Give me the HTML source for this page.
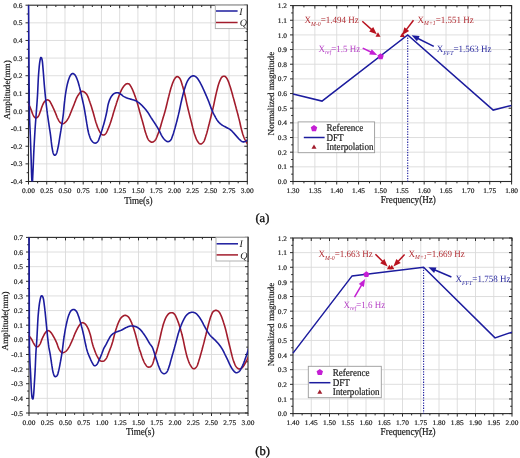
<!DOCTYPE html><html><head><meta charset="utf-8"><style>html,body{margin:0;padding:0;background:#fff;}svg{display:block;}</style></head><body>
<svg width="520" height="458" viewBox="0 0 520 458" font-family="'Liberation Serif', 'Times New Roman', serif" text-rendering="geometricPrecision">
<rect width="520" height="458" fill="#fff"/>
<defs><clipPath id="cA"><rect x="27.3" y="5.2" width="220.0" height="176.3"/></clipPath><clipPath id="cB"><rect x="291.8" y="5.6" width="219.8" height="175.9"/></clipPath><clipPath id="cC"><rect x="27.8" y="237.4" width="220.2" height="175.6"/></clipPath><clipPath id="cD"><rect x="291.8" y="238.0" width="220.2" height="175.60000000000002"/></clipPath></defs>
<path d="M46.73 5.2V181.5M64.97 5.2V181.5M83.2 5.2V181.5M101.43 5.2V181.5M119.67 5.2V181.5M137.9 5.2V181.5M156.13 5.2V181.5M174.37 5.2V181.5M192.6 5.2V181.5M210.83 5.2V181.5M229.07 5.2V181.5M28.5 163.87H247.3M28.5 146.24H247.3M28.5 128.61H247.3M28.5 110.98H247.3M28.5 93.35H247.3M28.5 75.72H247.3M28.5 58.09H247.3M28.5 40.46H247.3M28.5 22.83H247.3" stroke="#dadada" stroke-width="0.9" fill="none"/>
<path d="M28.5 181.5v3.0M28.5 5.2v3.0M37.62 181.5v1.8M37.62 5.2v1.8M46.73 181.5v3.0M46.73 5.2v3.0M55.85 181.5v1.8M55.85 5.2v1.8M64.97 181.5v3.0M64.97 5.2v3.0M74.08 181.5v1.8M74.08 5.2v1.8M83.2 181.5v3.0M83.2 5.2v3.0M92.32 181.5v1.8M92.32 5.2v1.8M101.43 181.5v3.0M101.43 5.2v3.0M110.55 181.5v1.8M110.55 5.2v1.8M119.67 181.5v3.0M119.67 5.2v3.0M128.78 181.5v1.8M128.78 5.2v1.8M137.9 181.5v3.0M137.9 5.2v3.0M147.02 181.5v1.8M147.02 5.2v1.8M156.13 181.5v3.0M156.13 5.2v3.0M165.25 181.5v1.8M165.25 5.2v1.8M174.37 181.5v3.0M174.37 5.2v3.0M183.48 181.5v1.8M183.48 5.2v1.8M192.6 181.5v3.0M192.6 5.2v3.0M201.72 181.5v1.8M201.72 5.2v1.8M210.83 181.5v3.0M210.83 5.2v3.0M219.95 181.5v1.8M219.95 5.2v1.8M229.07 181.5v3.0M229.07 5.2v3.0M238.18 181.5v1.8M238.18 5.2v1.8M247.3 181.5v3.0M247.3 5.2v3.0M28.5 181.5h-3.0M247.3 181.5h-3.0M28.5 172.69h-1.8M247.3 172.69h-1.8M28.5 163.87h-3.0M247.3 163.87h-3.0M28.5 155.06h-1.8M247.3 155.06h-1.8M28.5 146.24h-3.0M247.3 146.24h-3.0M28.5 137.43h-1.8M247.3 137.43h-1.8M28.5 128.61h-3.0M247.3 128.61h-3.0M28.5 119.79h-1.8M247.3 119.79h-1.8M28.5 110.98h-3.0M247.3 110.98h-3.0M28.5 102.16h-1.8M247.3 102.16h-1.8M28.5 93.35h-3.0M247.3 93.35h-3.0M28.5 84.53h-1.8M247.3 84.53h-1.8M28.5 75.72h-3.0M247.3 75.72h-3.0M28.5 66.91h-1.8M247.3 66.91h-1.8M28.5 58.09h-3.0M247.3 58.09h-3.0M28.5 49.28h-1.8M247.3 49.28h-1.8M28.5 40.46h-3.0M247.3 40.46h-3.0M28.5 31.64h-1.8M247.3 31.64h-1.8M28.5 22.83h-3.0M247.3 22.83h-3.0M28.5 14.01h-1.8M247.3 14.01h-1.8M28.5 5.2h-3.0M247.3 5.2h-3.0" stroke="#2a2a2a" stroke-width="1" fill="none"/>
<rect x="28.5" y="5.2" width="218.8" height="176.3" stroke="#2a2a2a" stroke-width="1.1" fill="none"/>
<g font-size="7.4" fill="#222" stroke="#222" stroke-width="0.2"><text transform="translate(28.5,193.3) scale(1,0.94)" text-anchor="middle">0.00</text><text transform="translate(46.73,193.3) scale(1,0.94)" text-anchor="middle">0.25</text><text transform="translate(64.97,193.3) scale(1,0.94)" text-anchor="middle">0.50</text><text transform="translate(83.2,193.3) scale(1,0.94)" text-anchor="middle">0.75</text><text transform="translate(101.43,193.3) scale(1,0.94)" text-anchor="middle">1.00</text><text transform="translate(119.67,193.3) scale(1,0.94)" text-anchor="middle">1.25</text><text transform="translate(137.9,193.3) scale(1,0.94)" text-anchor="middle">1.50</text><text transform="translate(156.13,193.3) scale(1,0.94)" text-anchor="middle">1.75</text><text transform="translate(174.37,193.3) scale(1,0.94)" text-anchor="middle">2.00</text><text transform="translate(192.6,193.3) scale(1,0.94)" text-anchor="middle">2.25</text><text transform="translate(210.83,193.3) scale(1,0.94)" text-anchor="middle">2.50</text><text transform="translate(229.07,193.3) scale(1,0.94)" text-anchor="middle">2.75</text><text transform="translate(247.3,193.3) scale(1,0.94)" text-anchor="middle">3.00</text><text transform="translate(22.5,184.1) scale(1,0.94)" text-anchor="end">-0.4</text><text transform="translate(22.5,166.47) scale(1,0.94)" text-anchor="end">-0.3</text><text transform="translate(22.5,148.84) scale(1,0.94)" text-anchor="end">-0.2</text><text transform="translate(22.5,131.21) scale(1,0.94)" text-anchor="end">-0.1</text><text transform="translate(22.5,113.58) scale(1,0.94)" text-anchor="end">0.0</text><text transform="translate(22.5,95.95) scale(1,0.94)" text-anchor="end">0.1</text><text transform="translate(22.5,78.32) scale(1,0.94)" text-anchor="end">0.2</text><text transform="translate(22.5,60.69) scale(1,0.94)" text-anchor="end">0.3</text><text transform="translate(22.5,43.06) scale(1,0.94)" text-anchor="end">0.4</text><text transform="translate(22.5,25.43) scale(1,0.94)" text-anchor="end">0.5</text><text transform="translate(22.5,7.8) scale(1,0.94)" text-anchor="end">0.6</text></g>
<path d="M28.50,104.55 28.68,104.80 28.91,105.14 29.17,105.53 29.42,105.95 29.66,106.39 29.89,106.83 30.11,107.28 30.32,107.73 30.51,108.20 30.70,108.66 30.87,109.13 31.05,109.59 31.22,110.06 31.40,110.53 31.57,111.00 31.75,111.47 31.92,111.94 32.09,112.41 32.26,112.88 32.44,113.35 32.62,113.81 32.82,114.27 33.02,114.73 33.24,115.18 33.47,115.62 33.71,116.06 33.97,116.48 34.26,116.88 34.58,117.26 34.93,117.59 35.31,117.84 35.73,117.97 36.18,117.97 36.62,117.85 37.04,117.64 37.42,117.34 37.76,116.99 38.07,116.60 38.34,116.19 38.60,115.76 38.83,115.32 39.04,114.87 39.24,114.41 39.42,113.95 39.60,113.48 39.77,113.01 39.94,112.54 40.11,112.07 40.28,111.60 40.45,111.13 40.62,110.66 40.79,110.19 40.95,109.72 41.11,109.24 41.27,108.77 41.43,108.29 41.59,107.82 41.75,107.35 41.91,106.87 42.08,106.40 42.26,105.93 42.44,105.47 42.63,105.01 42.84,104.55 43.05,104.10 43.27,103.65 43.51,103.21 43.75,102.77 44.00,102.35 44.28,101.93 44.58,101.54 44.91,101.17 45.27,100.83 45.66,100.53 46.07,100.26 46.51,100.04 46.96,99.91 47.43,99.86 47.90,99.92 48.35,100.08 48.77,100.31 49.16,100.60 49.51,100.94 49.82,101.32 50.10,101.73 50.35,102.16 50.58,102.60 50.81,103.05 51.04,103.49 51.27,103.93 51.50,104.38 51.73,104.82 51.96,105.27 52.18,105.72 52.40,106.17 52.62,106.62 52.83,107.07 53.04,107.52 53.25,107.97 53.46,108.43 53.67,108.88 53.88,109.34 54.08,109.79 54.29,110.25 54.49,110.71 54.69,111.17 54.88,111.63 55.08,112.09 55.28,112.55 55.47,113.01 55.66,113.47 55.85,113.93 56.03,114.40 56.21,114.87 56.39,115.33 56.56,115.80 56.74,116.27 56.92,116.73 57.11,117.20 57.31,117.65 57.52,118.11 57.74,118.56 57.96,119.00 58.19,119.45 58.43,119.89 58.67,120.33 58.92,120.76 59.19,121.18 59.47,121.59 59.77,121.98 60.11,122.35 60.47,122.69 60.85,123.00 61.26,123.28 61.70,123.50 62.15,123.67 62.61,123.73 63.07,123.70 63.53,123.56 63.96,123.34 64.36,123.06 64.75,122.75 65.12,122.42 65.49,122.08 65.84,121.72 66.18,121.36 66.50,120.98 66.80,120.58 67.09,120.17 67.37,119.76 67.63,119.33 67.89,118.91 68.14,118.47 68.39,118.04 68.63,117.60 68.86,117.16 69.08,116.71 69.29,116.25 69.49,115.80 69.68,115.34 69.87,114.87 70.05,114.41 70.24,113.94 70.42,113.48 70.60,113.01 70.78,112.55 70.97,112.08 71.16,111.62 71.34,111.15 71.53,110.69 71.72,110.23 71.91,109.76 72.09,109.30 72.28,108.84 72.47,108.37 72.66,107.91 72.85,107.45 73.04,106.98 73.23,106.52 73.42,106.06 73.60,105.60 73.79,105.13 73.97,104.67 74.16,104.20 74.34,103.73 74.51,103.27 74.69,102.80 74.87,102.33 75.05,101.87 75.23,101.40 75.41,100.93 75.59,100.47 75.77,100.00 75.96,99.54 76.15,99.07 76.34,98.61 76.54,98.16 76.75,97.70 76.96,97.25 77.19,96.80 77.43,96.37 77.68,95.93 77.95,95.51 78.22,95.10 78.51,94.69 78.80,94.28 79.09,93.88 79.39,93.48 79.70,93.08 80.02,92.70 80.36,92.34 80.73,92.01 81.12,91.72 81.55,91.50 82.00,91.38 82.47,91.35 82.94,91.42 83.40,91.57 83.84,91.78 84.26,92.04 84.67,92.33 85.05,92.64 85.43,92.97 85.79,93.32 86.14,93.67 86.46,94.05 86.76,94.45 87.03,94.86 87.27,95.30 87.49,95.75 87.70,96.20 87.89,96.66 88.08,97.13 88.26,97.59 88.43,98.06 88.60,98.53 88.77,99.00 88.94,99.47 89.10,99.94 89.26,100.42 89.43,100.89 89.59,101.36 89.76,101.83 89.92,102.31 90.09,102.78 90.26,103.25 90.42,103.72 90.58,104.19 90.74,104.67 90.90,105.14 91.06,105.62 91.21,106.09 91.36,106.57 91.51,107.05 91.66,107.52 91.81,108.00 91.95,108.48 92.10,108.96 92.24,109.44 92.39,109.92 92.53,110.39 92.67,110.87 92.82,111.35 92.96,111.83 93.10,112.31 93.24,112.79 93.38,113.27 93.52,113.75 93.65,114.23 93.79,114.71 93.92,115.20 94.05,115.68 94.19,116.16 94.32,116.64 94.45,117.13 94.58,117.61 94.71,118.09 94.84,118.57 94.98,119.05 95.11,119.54 95.25,120.02 95.39,120.50 95.53,120.98 95.67,121.46 95.82,121.93 95.97,122.41 96.13,122.88 96.28,123.36 96.44,123.83 96.60,124.31 96.76,124.78 96.92,125.25 97.09,125.73 97.26,126.20 97.43,126.67 97.61,127.14 97.79,127.60 97.97,128.06 98.17,128.53 98.37,128.98 98.58,129.44 98.80,129.89 99.02,130.34 99.24,130.78 99.47,131.23 99.71,131.67 99.95,132.10 100.21,132.53 100.48,132.95 100.77,133.35 101.09,133.73 101.45,134.07 101.83,134.39 102.23,134.66 102.66,134.87 103.12,134.99 103.58,135.01 104.03,134.91 104.47,134.72 104.88,134.46 105.26,134.15 105.60,133.79 105.91,133.41 106.19,133.00 106.44,132.57 106.67,132.13 106.89,131.68 107.10,131.22 107.31,130.77 107.51,130.31 107.71,129.85 107.91,129.40 108.11,128.94 108.31,128.48 108.50,128.02 108.69,127.56 108.88,127.09 109.06,126.63 109.24,126.16 109.42,125.69 109.59,125.22 109.76,124.75 109.92,124.28 110.09,123.81 110.25,123.33 110.41,122.86 110.57,122.39 110.73,121.91 110.89,121.44 111.05,120.96 111.20,120.49 111.36,120.01 111.51,119.54 111.66,119.06 111.80,118.58 111.95,118.10 112.09,117.62 112.23,117.14 112.38,116.67 112.52,116.19 112.66,115.71 112.80,115.23 112.94,114.75 113.08,114.27 113.22,113.79 113.36,113.31 113.50,112.83 113.64,112.35 113.79,111.87 113.93,111.39 114.08,110.91 114.23,110.44 114.38,109.96 114.52,109.48 114.67,109.00 114.82,108.52 114.97,108.05 115.12,107.57 115.26,107.09 115.41,106.61 115.56,106.14 115.71,105.66 115.86,105.18 116.02,104.71 116.17,104.23 116.32,103.75 116.47,103.28 116.63,102.80 116.79,102.33 116.94,101.85 117.10,101.38 117.26,100.91 117.42,100.43 117.58,99.96 117.74,99.49 117.91,99.01 118.07,98.54 118.23,98.07 118.39,97.59 118.55,97.12 118.72,96.65 118.88,96.18 119.05,95.71 119.22,95.24 119.39,94.77 119.57,94.30 119.75,93.83 119.93,93.37 120.12,92.91 120.32,92.45 120.52,91.99 120.73,91.53 120.95,91.08 121.16,90.63 121.38,90.18 121.61,89.74 121.84,89.30 122.08,88.86 122.33,88.42 122.58,87.99 122.85,87.57 123.13,87.16 123.43,86.75 123.73,86.36 124.04,85.97 124.36,85.59 124.69,85.21 125.03,84.85 125.40,84.51 125.79,84.22 126.21,83.98 126.66,83.81 127.14,83.71 127.62,83.67 128.11,83.69 128.57,83.79 128.99,83.98 129.36,84.26 129.69,84.62 129.98,85.01 130.26,85.43 130.52,85.86 130.77,86.29 131.02,86.72 131.27,87.15 131.51,87.59 131.75,88.03 131.97,88.48 132.19,88.93 132.40,89.38 132.60,89.84 132.79,90.30 132.99,90.76 133.18,91.22 133.36,91.69 133.54,92.15 133.73,92.62 133.91,93.08 134.09,93.55 134.27,94.02 134.44,94.48 134.62,94.95 134.79,95.42 134.96,95.89 135.13,96.36 135.30,96.83 135.46,97.31 135.63,97.78 135.79,98.25 135.95,98.73 136.10,99.20 136.26,99.68 136.41,100.15 136.57,100.63 136.72,101.10 136.87,101.58 137.02,102.06 137.16,102.54 137.31,103.01 137.46,103.49 137.60,103.97 137.74,104.45 137.88,104.93 138.01,105.41 138.15,105.89 138.28,106.38 138.41,106.86 138.54,107.34 138.67,107.82 138.80,108.31 138.93,108.79 139.06,109.27 139.19,109.76 139.32,110.24 139.45,110.72 139.57,111.21 139.70,111.69 139.84,112.17 139.97,112.65 140.10,113.14 140.23,113.62 140.37,114.10 140.50,114.58 140.64,115.06 140.78,115.54 140.92,116.02 141.05,116.50 141.19,116.98 141.33,117.47 141.47,117.95 141.61,118.43 141.74,118.91 141.88,119.39 142.02,119.87 142.16,120.35 142.30,120.83 142.43,121.31 142.57,121.79 142.71,122.27 142.85,122.75 142.98,123.23 143.12,123.71 143.25,124.20 143.38,124.68 143.51,125.16 143.64,125.64 143.77,126.13 143.90,126.61 144.02,127.10 144.15,127.58 144.27,128.06 144.40,128.55 144.53,129.03 144.65,129.51 144.78,130.00 144.92,130.48 145.05,130.96 145.19,131.44 145.33,131.92 145.48,132.40 145.63,132.87 145.79,133.35 145.95,133.82 146.12,134.29 146.28,134.77 146.45,135.24 146.62,135.71 146.79,136.18 146.96,136.64 147.14,137.11 147.33,137.58 147.52,138.04 147.73,138.49 147.95,138.94 148.20,139.37 148.47,139.79 148.77,140.18 149.10,140.55 149.45,140.90 149.83,141.23 150.22,141.53 150.63,141.79 151.07,142.00 151.53,142.12 152.01,142.16 152.48,142.09 152.93,141.95 153.37,141.73 153.79,141.47 154.19,141.17 154.56,140.85 154.92,140.50 155.24,140.12 155.53,139.72 155.79,139.30 156.02,138.85 156.23,138.40 156.43,137.95 156.63,137.49 156.81,137.02 157.00,136.56 157.18,136.09 157.36,135.63 157.54,135.16 157.72,134.69 157.91,134.23 158.09,133.77 158.28,133.30 158.46,132.84 158.64,132.37 158.82,131.90 158.99,131.43 159.16,130.96 159.33,130.49 159.49,130.02 159.65,129.54 159.80,129.07 159.95,128.59 160.10,128.11 160.24,127.63 160.38,127.15 160.52,126.67 160.66,126.19 160.80,125.71 160.94,125.23 161.07,124.75 161.21,124.27 161.34,123.79 161.48,123.31 161.62,122.83 161.75,122.35 161.89,121.87 162.03,121.38 162.17,120.91 162.31,120.43 162.46,119.95 162.60,119.47 162.75,118.99 162.89,118.51 163.04,118.03 163.18,117.56 163.33,117.08 163.48,116.60 163.62,116.12 163.77,115.64 163.92,115.16 164.06,114.69 164.21,114.21 164.35,113.73 164.49,113.25 164.63,112.77 164.77,112.29 164.91,111.81 165.04,111.33 165.18,110.84 165.31,110.36 165.44,109.88 165.56,109.40 165.69,108.91 165.81,108.43 165.94,107.94 166.06,107.46 166.18,106.97 166.29,106.49 166.41,106.00 166.53,105.51 166.64,105.03 166.76,104.54 166.88,104.05 166.99,103.57 167.11,103.08 167.22,102.60 167.34,102.11 167.46,101.62 167.57,101.14 167.69,100.65 167.81,100.17 167.93,99.68 168.05,99.19 168.17,98.71 168.29,98.22 168.42,97.74 168.54,97.26 168.66,96.77 168.79,96.29 168.91,95.80 169.03,95.32 169.15,94.83 169.28,94.35 169.40,93.86 169.52,93.38 169.64,92.89 169.77,92.41 169.89,91.92 170.02,91.44 170.15,90.96 170.28,90.48 170.41,89.99 170.55,89.51 170.68,89.03 170.82,88.55 170.97,88.07 171.12,87.59 171.27,87.12 171.42,86.64 171.58,86.17 171.74,85.70 171.90,85.22 172.07,84.75 172.23,84.28 172.40,83.81 172.57,83.34 172.75,82.87 172.92,82.40 173.11,81.94 173.30,81.47 173.50,81.02 173.71,80.56 173.93,80.12 174.17,79.68 174.43,79.25 174.70,78.83 174.98,78.42 175.27,78.01 175.58,77.62 175.91,77.26 176.27,76.95 176.67,76.72 177.10,76.62 177.55,76.64 177.99,76.79 178.40,77.03 178.79,77.32 179.16,77.66 179.49,78.02 179.80,78.41 180.07,78.82 180.31,79.26 180.51,79.71 180.70,80.17 180.87,80.64 181.03,81.12 181.19,81.59 181.34,82.07 181.49,82.54 181.64,83.02 181.79,83.50 181.94,83.98 182.09,84.45 182.24,84.93 182.38,85.41 182.53,85.88 182.68,86.36 182.82,86.84 182.96,87.32 183.10,87.80 183.23,88.28 183.37,88.77 183.50,89.25 183.63,89.73 183.76,90.21 183.89,90.70 184.01,91.18 184.14,91.67 184.26,92.15 184.38,92.64 184.50,93.12 184.62,93.61 184.74,94.09 184.86,94.58 184.97,95.07 185.08,95.55 185.19,96.04 185.29,96.53 185.40,97.02 185.50,97.51 185.61,98.00 185.71,98.49 185.81,98.97 185.92,99.46 186.02,99.95 186.12,100.44 186.22,100.93 186.33,101.42 186.43,101.91 186.54,102.40 186.64,102.89 186.75,103.38 186.86,103.86 186.97,104.35 187.08,104.84 187.19,105.33 187.31,105.81 187.42,106.30 187.54,106.79 187.65,107.27 187.77,107.76 187.89,108.25 188.00,108.73 188.12,109.22 188.24,109.70 188.36,110.19 188.48,110.67 188.60,111.16 188.72,111.65 188.84,112.13 188.96,112.62 189.08,113.10 189.20,113.59 189.32,114.07 189.44,114.56 189.56,115.04 189.68,115.53 189.80,116.01 189.93,116.50 190.05,116.98 190.17,117.47 190.29,117.95 190.42,118.44 190.54,118.92 190.66,119.40 190.79,119.89 190.91,120.37 191.04,120.86 191.16,121.34 191.28,121.83 191.40,122.31 191.53,122.80 191.65,123.28 191.77,123.77 191.88,124.25 192.00,124.74 192.12,125.23 192.24,125.71 192.36,126.20 192.48,126.68 192.60,127.17 192.71,127.65 192.84,128.14 192.96,128.62 193.08,129.11 193.21,129.59 193.33,130.08 193.46,130.56 193.60,131.04 193.73,131.52 193.87,132.00 194.01,132.48 194.16,132.96 194.32,133.43 194.47,133.91 194.63,134.38 194.79,134.86 194.96,135.33 195.12,135.80 195.29,136.27 195.46,136.74 195.64,137.21 195.82,137.68 196.00,138.14 196.19,138.60 196.39,139.06 196.60,139.51 196.83,139.96 197.06,140.40 197.32,140.83 197.58,141.25 197.85,141.67 198.14,142.08 198.43,142.49 198.73,142.88 199.06,143.25 199.41,143.58 199.81,143.83 200.24,143.98 200.69,144.00 201.14,143.90 201.57,143.70 201.98,143.44 202.37,143.13 202.73,142.79 203.07,142.43 203.39,142.05 203.69,141.65 203.95,141.23 204.18,140.79 204.39,140.34 204.58,139.87 204.76,139.41 204.93,138.94 205.09,138.47 205.25,137.99 205.40,137.51 205.56,137.04 205.71,136.56 205.85,136.08 206.00,135.61 206.15,135.13 206.30,134.65 206.44,134.17 206.59,133.70 206.73,133.22 206.88,132.74 207.01,132.26 207.15,131.77 207.28,131.29 207.41,130.81 207.53,130.32 207.66,129.84 207.78,129.36 207.90,128.87 208.03,128.39 208.15,127.90 208.27,127.42 208.39,126.93 208.51,126.45 208.63,125.96 208.75,125.48 208.88,124.99 209.00,124.51 209.12,124.02 209.25,123.54 209.37,123.05 209.49,122.57 209.62,122.08 209.74,121.60 209.86,121.11 209.98,120.63 210.11,120.14 210.23,119.66 210.35,119.17 210.47,118.69 210.59,118.20 210.71,117.72 210.83,117.23 210.95,116.75 211.07,116.26 211.19,115.78 211.31,115.29 211.43,114.81 211.54,114.32 211.66,113.83 211.78,113.35 211.89,112.86 212.01,112.38 212.13,111.89 212.24,111.40 212.36,110.92 212.47,110.43 212.59,109.94 212.70,109.46 212.82,108.97 212.93,108.48 213.04,107.99 213.16,107.51 213.27,107.02 213.38,106.53 213.49,106.05 213.60,105.56 213.71,105.07 213.81,104.58 213.92,104.09 214.02,103.60 214.13,103.11 214.23,102.62 214.33,102.14 214.43,101.65 214.54,101.16 214.64,100.67 214.74,100.18 214.84,99.69 214.94,99.20 215.04,98.71 215.15,98.22 215.25,97.73 215.35,97.24 215.46,96.75 215.56,96.26 215.67,95.77 215.78,95.29 215.89,94.80 216.00,94.31 216.11,93.82 216.22,93.34 216.34,92.85 216.46,92.36 216.58,91.88 216.70,91.39 216.82,90.91 216.94,90.42 217.06,89.94 217.18,89.45 217.30,88.97 217.42,88.48 217.54,88.00 217.67,87.51 217.79,87.03 217.92,86.55 218.05,86.06 218.19,85.58 218.32,85.10 218.47,84.62 218.61,84.14 218.76,83.67 218.92,83.19 219.09,82.72 219.27,82.26 219.45,81.79 219.65,81.33 219.84,80.87 220.04,80.41 220.24,79.95 220.45,79.50 220.66,79.05 220.88,78.60 221.12,78.16 221.38,77.74 221.67,77.34 222.01,76.99 222.39,76.71 222.82,76.49 223.28,76.33 223.75,76.25 224.23,76.23 224.69,76.31 225.12,76.50 225.50,76.77 225.85,77.11 226.17,77.49 226.47,77.89 226.75,78.30 227.02,78.72 227.28,79.15 227.52,79.58 227.75,80.03 227.95,80.48 228.15,80.94 228.33,81.41 228.51,81.88 228.68,82.34 228.85,82.82 229.02,83.29 229.18,83.76 229.34,84.23 229.50,84.71 229.66,85.18 229.82,85.66 229.97,86.13 230.13,86.60 230.29,87.08 230.44,87.56 230.59,88.03 230.74,88.51 230.89,88.99 231.03,89.47 231.17,89.95 231.31,90.43 231.45,90.91 231.59,91.39 231.72,91.87 231.86,92.35 231.99,92.83 232.12,93.31 232.26,93.80 232.39,94.28 232.52,94.76 232.66,95.24 232.79,95.72 232.92,96.21 233.06,96.69 233.19,97.17 233.33,97.65 233.46,98.13 233.59,98.61 233.73,99.10 233.86,99.58 233.99,100.06 234.12,100.54 234.26,101.02 234.39,101.51 234.52,101.99 234.65,102.47 234.78,102.96 234.91,103.44 235.04,103.92 235.17,104.40 235.30,104.89 235.43,105.37 235.56,105.85 235.69,106.34 235.82,106.82 235.95,107.30 236.08,107.78 236.20,108.27 236.33,108.75 236.46,109.23 236.59,109.72 236.72,110.20 236.85,110.68 236.98,111.16 237.11,111.65 237.24,112.13 237.37,112.61 237.50,113.10 237.63,113.58 237.76,114.06 237.89,114.54 238.02,115.03 238.15,115.51 238.28,115.99 238.40,116.48 238.53,116.96 238.65,117.45 238.78,117.93 238.90,118.41 239.02,118.90 239.15,119.38 239.27,119.87 239.38,120.36 239.50,120.84 239.61,121.33 239.72,121.82 239.83,122.30 239.94,122.79 240.05,123.28 240.16,123.77 240.26,124.26 240.37,124.75 240.48,125.24 240.58,125.72 240.69,126.21 240.80,126.70 240.91,127.19 241.02,127.67 241.14,128.16 241.26,128.65 241.38,129.13 241.50,129.62 241.63,130.10 241.76,130.58 241.90,131.06 242.03,131.54 242.17,132.02 242.31,132.50 242.46,132.98 242.60,133.46 242.75,133.94 242.91,134.41 243.06,134.89 243.22,135.36 243.39,135.83 243.56,136.30 243.74,136.77 243.93,137.23 244.12,137.70 244.32,138.15 244.52,138.61 244.74,139.06 244.96,139.51 245.19,139.95 245.42,140.40 245.66,140.84 245.90,141.27 246.15,141.70 246.41,142.13 246.67,142.56 246.94,142.98 247.21,143.38 247.46,143.75 247.68,144.06" stroke="#a21c2c" stroke-width="1.6" fill="none" stroke-linejoin="round" clip-path="url(#cA)"/>
<path d="M28.45,-9.68 28.45,-9.37 28.46,-8.96 28.46,-8.49 28.46,-8.00 28.47,-7.50 28.47,-7.00 28.48,-6.50 28.48,-6.00 28.48,-5.50 28.49,-5.00 28.49,-4.50 28.49,-4.00 28.50,-3.50 28.50,-3.00 28.50,-2.50 28.51,-2.00 28.51,-1.50 28.52,-1.00 28.52,-0.50 28.52,-0.00 28.53,0.50 28.53,1.00 28.53,1.50 28.54,2.00 28.54,2.50 28.54,3.00 28.55,3.50 28.55,4.00 28.56,4.50 28.56,5.00 28.56,5.50 28.57,6.00 28.57,6.50 28.57,7.00 28.58,7.50 28.58,8.00 28.59,8.50 28.59,9.00 28.59,9.50 28.60,10.00 28.60,10.50 28.60,11.00 28.61,11.50 28.61,12.00 28.62,12.50 28.62,13.00 28.62,13.50 28.63,14.00 28.63,14.50 28.63,15.00 28.64,15.50 28.64,16.00 28.64,16.50 28.65,17.00 28.65,17.50 28.66,18.00 28.66,18.50 28.66,19.00 28.67,19.50 28.67,20.00 28.67,20.50 28.68,21.00 28.68,21.50 28.69,22.00 28.69,22.50 28.69,23.00 28.70,23.50 28.70,24.00 28.70,24.50 28.71,25.00 28.71,25.50 28.72,26.00 28.72,26.50 28.72,27.00 28.73,27.50 28.73,28.00 28.74,28.50 28.74,29.00 28.74,29.50 28.75,30.00 28.75,30.50 28.75,31.00 28.76,31.50 28.76,32.00 28.77,32.50 28.77,33.00 28.77,33.50 28.78,34.00 28.78,34.50 28.78,35.00 28.79,35.50 28.79,36.00 28.80,36.50 28.80,37.00 28.80,37.50 28.81,38.00 28.81,38.50 28.82,39.00 28.82,39.50 28.82,40.00 28.83,40.50 28.83,41.00 28.83,41.50 28.84,42.00 28.84,42.50 28.85,43.00 28.85,43.50 28.85,44.00 28.86,44.50 28.86,45.00 28.87,45.50 28.87,46.00 28.87,46.50 28.88,47.00 28.88,47.50 28.88,48.00 28.89,48.50 28.89,49.00 28.90,49.50 28.90,50.00 28.90,50.50 28.91,51.00 28.91,51.50 28.92,52.00 28.92,52.50 28.92,53.00 28.93,53.50 28.93,54.00 28.93,54.50 28.94,55.00 28.94,55.50 28.94,56.00 28.95,56.50 28.95,57.00 28.96,57.50 28.96,58.00 28.96,58.50 28.97,59.00 28.97,59.50 28.97,60.00 28.98,60.50 28.98,61.00 28.98,61.50 28.99,62.00 28.99,62.50 28.99,63.00 29.00,63.50 29.00,64.00 29.00,64.50 29.01,65.00 29.01,65.50 29.01,66.00 29.02,66.50 29.02,67.00 29.02,67.50 29.03,68.00 29.03,68.50 29.03,69.00 29.04,69.50 29.04,70.00 29.04,70.50 29.05,71.00 29.05,71.50 29.05,72.00 29.06,72.50 29.06,73.00 29.06,73.50 29.07,74.00 29.07,74.50 29.07,75.00 29.08,75.50 29.08,76.00 29.08,76.50 29.09,77.00 29.09,77.50 29.09,78.00 29.10,78.50 29.10,79.00 29.10,79.50 29.11,80.00 29.11,80.50 29.11,81.00 29.12,81.50 29.12,82.00 29.12,82.50 29.13,83.00 29.13,83.50 29.13,84.00 29.14,84.50 29.14,85.00 29.15,85.50 29.15,86.00 29.15,86.50 29.16,87.00 29.16,87.50 29.16,88.00 29.17,88.50 29.17,89.00 29.17,89.50 29.18,90.00 29.18,90.50 29.18,91.00 29.19,91.50 29.19,92.00 29.20,92.50 29.20,93.00 29.20,93.50 29.21,94.00 29.21,94.50 29.21,95.00 29.22,95.50 29.22,96.00 29.23,96.50 29.23,97.00 29.23,97.50 29.24,98.00 29.24,98.50 29.25,99.00 29.25,99.50 29.26,100.00 29.26,100.50 29.26,101.00 29.27,101.50 29.27,102.00 29.28,102.50 29.28,103.00 29.29,103.50 29.29,104.00 29.30,104.50 29.30,105.00 29.31,105.50 29.31,106.00 29.32,106.50 29.33,107.00 29.33,107.50 29.34,108.00 29.34,108.50 29.35,109.00 29.36,109.50 29.37,110.00 29.37,110.50 29.38,111.00 29.39,111.50 29.40,112.00 29.41,112.50 29.42,113.00 29.43,113.50 29.45,114.00 29.46,114.50 29.47,115.00 29.48,115.50 29.50,115.99 29.51,116.49 29.53,116.99 29.54,117.49 29.56,117.99 29.57,118.49 29.59,118.99 29.60,119.49 29.62,119.99 29.64,120.49 29.66,120.99 29.68,121.49 29.69,121.99 29.72,122.49 29.74,122.99 29.76,123.49 29.78,123.99 29.80,124.49 29.83,124.99 29.85,125.49 29.88,125.99 29.90,126.49 29.93,126.99 29.95,127.49 29.98,127.98 30.01,128.48 30.03,128.98 30.06,129.48 30.08,129.98 30.11,130.48 30.13,130.98 30.16,131.48 30.18,131.98 30.20,132.48 30.22,132.98 30.24,133.48 30.26,133.98 30.28,134.48 30.30,134.98 30.32,135.48 30.34,135.98 30.36,136.48 30.38,136.98 30.39,137.48 30.41,137.98 30.43,138.47 30.45,138.97 30.47,139.47 30.48,139.97 30.50,140.47 30.52,140.97 30.54,141.47 30.55,141.97 30.57,142.47 30.59,142.97 30.61,143.47 30.62,143.97 30.64,144.47 30.66,144.97 30.68,145.47 30.69,145.97 30.71,146.47 30.73,146.97 30.75,147.47 30.76,147.97 30.78,148.47 30.80,148.97 30.81,149.47 30.83,149.97 30.85,150.47 30.87,150.97 30.88,151.47 30.90,151.97 30.92,152.47 30.93,152.97 30.95,153.47 30.97,153.97 30.98,154.47 31.00,154.97 31.02,155.46 31.03,155.96 31.05,156.46 31.07,156.96 31.09,157.46 31.10,157.96 31.12,158.46 31.13,158.96 31.15,159.46 31.17,159.96 31.18,160.46 31.20,160.96 31.21,161.46 31.22,161.96 31.24,162.46 31.25,162.96 31.27,163.46 31.28,163.96 31.29,164.46 31.31,164.96 31.32,165.46 31.34,165.96 31.35,166.46 31.36,166.96 31.38,167.46 31.39,167.96 31.40,168.46 31.42,168.96 31.43,169.46 31.45,169.96 31.46,170.46 31.47,170.96 31.49,171.46 31.50,171.96 31.52,172.46 31.53,172.96 31.55,173.46 31.57,173.96 31.58,174.46 31.60,174.96 31.62,175.46 31.64,175.96 31.66,176.45 31.68,176.95 31.70,177.45 31.73,177.95 31.75,178.45 31.79,178.95 31.83,179.45 31.87,179.95 31.91,180.45 31.96,180.94 32.02,181.43 32.08,181.87 32.16,182.22 32.25,182.38 32.34,182.31 32.41,182.02 32.46,181.60 32.50,181.12 32.54,180.62 32.56,180.12 32.59,179.63 32.62,179.13 32.64,178.63 32.66,178.13 32.69,177.63 32.71,177.13 32.73,176.63 32.76,176.13 32.78,175.63 32.80,175.13 32.82,174.63 32.85,174.13 32.87,173.63 32.90,173.13 32.92,172.63 32.95,172.13 32.97,171.63 33.00,171.14 33.02,170.64 33.05,170.14 33.07,169.64 33.09,169.14 33.11,168.64 33.13,168.14 33.16,167.64 33.18,167.14 33.20,166.64 33.22,166.14 33.24,165.64 33.26,165.14 33.28,164.64 33.30,164.14 33.32,163.64 33.34,163.14 33.37,162.64 33.39,162.14 33.41,161.64 33.43,161.14 33.45,160.64 33.47,160.15 33.49,159.65 33.51,159.15 33.53,158.65 33.55,158.15 33.57,157.65 33.59,157.15 33.61,156.65 33.63,156.15 33.65,155.65 33.67,155.15 33.70,154.65 33.72,154.15 33.74,153.65 33.76,153.15 33.78,152.65 33.81,152.15 33.83,151.65 33.85,151.15 33.88,150.65 33.90,150.15 33.93,149.66 33.95,149.16 33.98,148.66 34.00,148.16 34.03,147.66 34.05,147.16 34.08,146.66 34.11,146.16 34.13,145.66 34.16,145.16 34.18,144.66 34.21,144.16 34.24,143.66 34.26,143.16 34.29,142.66 34.32,142.17 34.34,141.67 34.37,141.17 34.40,140.67 34.43,140.17 34.45,139.67 34.48,139.17 34.51,138.67 34.54,138.17 34.57,137.67 34.60,137.17 34.62,136.67 34.65,136.18 34.68,135.68 34.71,135.18 34.74,134.68 34.77,134.18 34.80,133.68 34.83,133.18 34.86,132.68 34.89,132.18 34.92,131.68 34.95,131.18 34.98,130.69 35.01,130.19 35.05,129.69 35.08,129.19 35.11,128.69 35.14,128.19 35.17,127.69 35.21,127.19 35.24,126.69 35.27,126.19 35.31,125.70 35.34,125.20 35.38,124.70 35.41,124.20 35.45,123.70 35.49,123.20 35.52,122.70 35.56,122.20 35.60,121.71 35.64,121.21 35.68,120.71 35.71,120.21 35.75,119.71 35.79,119.21 35.83,118.71 35.87,118.22 35.90,117.72 35.94,117.22 35.98,116.72 36.02,116.22 36.05,115.72 36.09,115.22 36.13,114.73 36.16,114.23 36.20,113.73 36.24,113.23 36.27,112.73 36.31,112.23 36.35,111.73 36.39,111.24 36.42,110.74 36.46,110.24 36.50,109.74 36.54,109.24 36.58,108.74 36.61,108.24 36.65,107.75 36.69,107.25 36.72,106.75 36.76,106.25 36.80,105.75 36.84,105.25 36.87,104.75 36.91,104.26 36.94,103.76 36.98,103.26 37.02,102.76 37.05,102.26 37.09,101.76 37.12,101.26 37.15,100.76 37.19,100.27 37.22,99.77 37.26,99.27 37.29,98.77 37.32,98.27 37.35,97.77 37.38,97.27 37.42,96.77 37.45,96.27 37.48,95.77 37.51,95.28 37.54,94.78 37.56,94.28 37.59,93.78 37.62,93.28 37.64,92.78 37.67,92.28 37.69,91.78 37.72,91.28 37.74,90.78 37.77,90.28 37.79,89.78 37.81,89.28 37.84,88.78 37.86,88.28 37.88,87.78 37.90,87.29 37.93,86.79 37.95,86.29 37.97,85.79 37.99,85.29 38.02,84.79 38.04,84.29 38.06,83.79 38.09,83.29 38.11,82.79 38.13,82.29 38.16,81.79 38.18,81.29 38.21,80.79 38.23,80.29 38.26,79.79 38.28,79.29 38.31,78.79 38.33,78.30 38.36,77.80 38.39,77.30 38.42,76.80 38.45,76.30 38.49,75.80 38.52,75.30 38.56,74.80 38.59,74.30 38.63,73.81 38.67,73.31 38.71,72.81 38.74,72.31 38.78,71.81 38.82,71.31 38.86,70.81 38.90,70.32 38.94,69.82 38.98,69.32 39.02,68.82 39.07,68.32 39.11,67.82 39.16,67.33 39.20,66.83 39.25,66.33 39.30,65.83 39.35,65.34 39.40,64.84 39.46,64.34 39.52,63.85 39.58,63.35 39.65,62.85 39.72,62.36 39.79,61.87 39.88,61.37 39.96,60.88 40.04,60.39 40.13,59.89 40.22,59.40 40.32,58.91 40.43,58.43 40.57,57.99 40.74,57.63 40.95,57.43 41.18,57.45 41.40,57.68 41.59,58.06 41.75,58.51 41.88,58.98 42.00,59.47 42.11,59.95 42.21,60.44 42.29,60.94 42.36,61.43 42.43,61.93 42.48,62.42 42.53,62.92 42.58,63.42 42.63,63.92 42.67,64.41 42.71,64.91 42.76,65.41 42.80,65.91 42.84,66.41 42.88,66.90 42.92,67.40 42.96,67.90 43.01,68.40 43.05,68.90 43.09,69.40 43.13,69.89 43.18,70.39 43.22,70.89 43.26,71.39 43.30,71.89 43.34,72.39 43.38,72.88 43.42,73.38 43.46,73.88 43.50,74.38 43.54,74.88 43.57,75.38 43.61,75.87 43.65,76.37 43.69,76.87 43.72,77.37 43.76,77.87 43.80,78.37 43.84,78.87 43.87,79.36 43.91,79.86 43.95,80.36 43.99,80.86 44.03,81.36 44.07,81.86 44.11,82.36 44.15,82.85 44.19,83.35 44.23,83.85 44.27,84.35 44.31,84.85 44.36,85.35 44.40,85.84 44.44,86.34 44.49,86.84 44.53,87.34 44.58,87.84 44.62,88.33 44.66,88.83 44.71,89.33 44.76,89.83 44.80,90.33 44.85,90.82 44.89,91.32 44.94,91.82 44.99,92.32 45.03,92.81 45.08,93.31 45.13,93.81 45.18,94.31 45.23,94.81 45.27,95.30 45.32,95.80 45.37,96.30 45.42,96.80 45.48,97.29 45.53,97.79 45.58,98.29 45.63,98.78 45.68,99.28 45.74,99.78 45.79,100.28 45.84,100.77 45.90,101.27 45.95,101.77 46.01,102.26 46.06,102.76 46.12,103.26 46.17,103.76 46.23,104.25 46.29,104.75 46.35,105.25 46.40,105.74 46.46,106.24 46.52,106.74 46.58,107.23 46.64,107.73 46.70,108.22 46.76,108.72 46.82,109.22 46.88,109.71 46.94,110.21 47.00,110.71 47.07,111.20 47.13,111.70 47.19,112.19 47.26,112.69 47.32,113.19 47.39,113.68 47.45,114.18 47.52,114.67 47.58,115.17 47.65,115.66 47.72,116.16 47.79,116.65 47.86,117.15 47.93,117.64 48.00,118.14 48.07,118.63 48.15,119.13 48.22,119.62 48.29,120.12 48.37,120.61 48.44,121.11 48.51,121.60 48.59,122.10 48.66,122.59 48.73,123.08 48.81,123.58 48.88,124.07 48.96,124.57 49.03,125.06 49.10,125.56 49.18,126.05 49.25,126.55 49.33,127.04 49.41,127.53 49.48,128.03 49.56,128.52 49.63,129.02 49.71,129.51 49.79,130.01 49.86,130.50 49.94,130.99 50.01,131.49 50.08,131.98 50.16,132.48 50.23,132.97 50.30,133.47 50.37,133.96 50.44,134.46 50.50,134.95 50.57,135.45 50.63,135.95 50.69,136.44 50.75,136.94 50.81,137.43 50.87,137.93 50.93,138.43 50.98,138.92 51.04,139.42 51.09,139.92 51.15,140.42 51.20,140.91 51.26,141.41 51.31,141.91 51.37,142.40 51.43,142.90 51.49,143.40 51.54,143.89 51.61,144.39 51.67,144.89 51.73,145.38 51.80,145.88 51.87,146.37 51.95,146.87 52.03,147.36 52.11,147.85 52.20,148.34 52.29,148.84 52.37,149.33 52.46,149.82 52.56,150.31 52.65,150.80 52.75,151.29 52.86,151.78 52.97,152.27 53.10,152.75 53.25,153.23 53.42,153.69 53.62,154.14 53.86,154.57 54.14,154.93 54.46,155.17 54.82,155.25 55.20,155.15 55.55,154.90 55.86,154.55 56.14,154.15 56.38,153.72 56.59,153.27 56.76,152.80 56.91,152.33 57.05,151.85 57.17,151.36 57.29,150.88 57.41,150.39 57.52,149.90 57.62,149.42 57.73,148.93 57.83,148.44 57.94,147.95 58.04,147.46 58.14,146.97 58.24,146.48 58.34,145.99 58.43,145.50 58.52,145.01 58.61,144.51 58.69,144.02 58.78,143.53 58.86,143.04 58.94,142.54 59.02,142.05 59.10,141.55 59.18,141.06 59.25,140.57 59.33,140.07 59.41,139.58 59.49,139.08 59.56,138.59 59.64,138.10 59.72,137.60 59.80,137.11 59.88,136.62 59.96,136.12 60.04,135.63 60.13,135.14 60.21,134.64 60.29,134.15 60.37,133.66 60.46,133.16 60.54,132.67 60.62,132.18 60.70,131.68 60.78,131.19 60.87,130.70 60.95,130.20 61.03,129.71 61.11,129.22 61.19,128.72 61.27,128.23 61.35,127.74 61.43,127.24 61.51,126.75 61.58,126.26 61.66,125.76 61.74,125.27 61.81,124.77 61.89,124.28 61.96,123.78 62.04,123.29 62.11,122.80 62.19,122.30 62.26,121.81 62.34,121.31 62.41,120.82 62.49,120.32 62.56,119.83 62.63,119.33 62.70,118.84 62.77,118.34 62.84,117.85 62.91,117.35 62.98,116.86 63.04,116.36 63.11,115.87 63.17,115.37 63.23,114.87 63.29,114.38 63.35,113.88 63.41,113.39 63.47,112.89 63.52,112.39 63.57,111.89 63.62,111.40 63.67,110.90 63.71,110.40 63.76,109.90 63.80,109.40 63.85,108.91 63.89,108.41 63.94,107.91 63.98,107.41 64.03,106.91 64.07,106.42 64.12,105.92 64.17,105.42 64.21,104.92 64.26,104.43 64.31,103.93 64.37,103.43 64.42,102.93 64.48,102.44 64.53,101.94 64.59,101.44 64.65,100.95 64.70,100.45 64.76,99.95 64.82,99.46 64.88,98.96 64.94,98.46 65.00,97.97 65.06,97.47 65.12,96.98 65.19,96.48 65.25,95.98 65.32,95.49 65.38,94.99 65.45,94.50 65.52,94.00 65.59,93.51 65.67,93.01 65.74,92.52 65.82,92.02 65.90,91.53 65.98,91.04 66.06,90.54 66.15,90.05 66.24,89.56 66.33,89.07 66.42,88.58 66.52,88.09 66.61,87.59 66.71,87.10 66.81,86.61 66.91,86.13 67.02,85.64 67.13,85.15 67.24,84.66 67.35,84.17 67.47,83.69 67.59,83.20 67.72,82.72 67.85,82.24 67.99,81.76 68.13,81.28 68.27,80.80 68.42,80.32 68.57,79.84 68.72,79.37 68.88,78.89 69.04,78.42 69.21,77.95 69.40,77.49 69.59,77.03 69.80,76.57 70.03,76.13 70.28,75.70 70.54,75.28 70.83,74.87 71.14,74.48 71.47,74.12 71.83,73.82 72.23,73.61 72.67,73.52 73.11,73.58 73.54,73.75 73.95,74.00 74.33,74.31 74.69,74.65 75.02,75.02 75.32,75.42 75.59,75.83 75.83,76.27 76.05,76.71 76.26,77.17 76.47,77.62 76.66,78.08 76.85,78.55 77.04,79.01 77.22,79.48 77.40,79.94 77.57,80.41 77.73,80.89 77.89,81.36 78.04,81.84 78.19,82.31 78.33,82.79 78.47,83.27 78.61,83.75 78.75,84.23 78.88,84.72 79.01,85.20 79.15,85.68 79.28,86.16 79.40,86.65 79.53,87.13 79.66,87.61 79.78,88.10 79.90,88.58 80.02,89.07 80.13,89.56 80.25,90.04 80.36,90.53 80.47,91.02 80.58,91.50 80.69,91.99 80.80,92.48 80.91,92.97 81.02,93.46 81.13,93.94 81.23,94.43 81.34,94.92 81.45,95.41 81.56,95.90 81.66,96.39 81.77,96.87 81.88,97.36 81.99,97.85 82.10,98.34 82.21,98.83 82.32,99.31 82.44,99.80 82.55,100.29 82.66,100.78 82.77,101.26 82.88,101.75 82.99,102.24 83.10,102.73 83.21,103.21 83.31,103.70 83.42,104.19 83.53,104.68 83.63,105.17 83.73,105.66 83.83,106.15 83.93,106.64 84.03,107.13 84.13,107.62 84.23,108.11 84.32,108.60 84.41,109.09 84.50,109.58 84.59,110.08 84.68,110.57 84.76,111.06 84.84,111.55 84.93,112.05 85.01,112.54 85.08,113.03 85.16,113.53 85.24,114.02 85.32,114.52 85.39,115.01 85.47,115.50 85.55,116.00 85.63,116.49 85.70,116.99 85.78,117.48 85.86,117.97 85.94,118.47 86.02,118.96 86.11,119.45 86.19,119.95 86.28,120.44 86.36,120.93 86.44,121.42 86.53,121.92 86.61,122.41 86.69,122.90 86.77,123.40 86.86,123.89 86.94,124.38 87.02,124.88 87.10,125.37 87.19,125.86 87.27,126.36 87.35,126.85 87.44,127.34 87.53,127.83 87.61,128.33 87.70,128.82 87.80,129.31 87.89,129.80 87.99,130.29 88.08,130.78 88.19,131.27 88.30,131.76 88.41,132.25 88.53,132.73 88.66,133.21 88.79,133.70 88.93,134.18 89.07,134.65 89.22,135.13 89.37,135.61 89.53,136.08 89.69,136.56 89.85,137.03 90.02,137.50 90.20,137.97 90.39,138.43 90.60,138.88 90.82,139.33 91.06,139.77 91.32,140.19 91.61,140.59 91.93,140.98 92.25,141.36 92.59,141.72 92.95,142.07 93.32,142.40 93.72,142.69 94.14,142.92 94.59,143.08 95.06,143.14 95.52,143.09 95.97,142.95 96.40,142.73 96.81,142.45 97.18,142.13 97.52,141.77 97.83,141.39 98.10,140.97 98.34,140.54 98.55,140.09 98.74,139.63 98.92,139.16 99.10,138.69 99.27,138.22 99.44,137.75 99.61,137.28 99.78,136.81 99.95,136.34 100.12,135.87 100.29,135.40 100.45,134.93 100.61,134.45 100.76,133.98 100.92,133.50 101.07,133.03 101.22,132.55 101.36,132.07 101.51,131.59 101.66,131.12 101.80,130.64 101.95,130.16 102.10,129.68 102.25,129.20 102.39,128.73 102.54,128.25 102.69,127.77 102.83,127.29 102.98,126.81 103.12,126.34 103.27,125.86 103.41,125.38 103.55,124.90 103.69,124.42 103.83,123.94 103.96,123.46 104.10,122.97 104.23,122.49 104.36,122.01 104.49,121.53 104.62,121.04 104.74,120.56 104.87,120.07 104.99,119.59 105.11,119.10 105.23,118.62 105.35,118.13 105.47,117.65 105.59,117.16 105.70,116.67 105.81,116.19 105.93,115.70 106.04,115.21 106.15,114.73 106.26,114.24 106.36,113.75 106.47,113.26 106.58,112.77 106.68,112.28 106.78,111.79 106.87,111.30 106.97,110.81 107.06,110.32 107.14,109.83 107.23,109.33 107.31,108.84 107.40,108.35 107.48,107.86 107.57,107.36 107.65,106.87 107.74,106.38 107.84,105.89 107.93,105.40 108.04,104.91 108.15,104.42 108.28,103.94 108.41,103.46 108.55,102.98 108.70,102.50 108.86,102.02 109.02,101.55 109.18,101.08 109.35,100.61 109.53,100.14 109.72,99.68 109.91,99.22 110.11,98.76 110.32,98.31 110.55,97.86 110.79,97.42 111.04,96.99 111.31,96.57 111.59,96.16 111.89,95.76 112.19,95.36 112.51,94.98 112.85,94.61 113.20,94.26 113.58,93.94 113.98,93.66 114.41,93.41 114.86,93.21 115.33,93.04 115.80,92.90 116.29,92.79 116.78,92.71 117.27,92.69 117.75,92.73 118.23,92.83 118.69,93.00 119.13,93.21 119.57,93.46 119.99,93.72 120.41,93.99 120.82,94.27 121.23,94.56 121.62,94.87 122.01,95.18 122.40,95.49 122.80,95.80 123.20,96.09 123.61,96.37 124.04,96.63 124.48,96.87 124.92,97.10 125.37,97.32 125.83,97.52 126.29,97.72 126.75,97.90 127.22,98.08 127.69,98.24 128.17,98.40 128.64,98.55 129.12,98.69 129.60,98.83 130.08,98.97 130.56,99.11 131.04,99.25 131.52,99.38 132.01,99.52 132.49,99.65 132.97,99.79 133.45,99.93 133.92,100.09 134.39,100.26 134.86,100.44 135.32,100.63 135.77,100.84 136.22,101.06 136.66,101.30 137.09,101.54 137.52,101.80 137.94,102.07 138.35,102.36 138.75,102.65 139.15,102.96 139.54,103.27 139.92,103.60 140.30,103.92 140.67,104.25 141.04,104.59 141.40,104.94 141.76,105.29 142.11,105.64 142.46,106.00 142.81,106.36 143.15,106.72 143.49,107.09 143.82,107.46 144.16,107.83 144.49,108.21 144.82,108.58 145.15,108.96 145.47,109.34 145.79,109.73 146.10,110.12 146.41,110.51 146.72,110.90 147.03,111.30 147.32,111.70 147.62,112.10 147.91,112.51 148.19,112.93 148.46,113.35 148.73,113.77 148.99,114.19 149.25,114.62 149.51,115.05 149.77,115.48 150.02,115.91 150.28,116.33 150.54,116.76 150.81,117.18 151.07,117.61 151.35,118.03 151.62,118.45 151.89,118.86 152.17,119.28 152.45,119.70 152.73,120.11 153.00,120.53 153.28,120.94 153.56,121.36 153.83,121.78 154.11,122.19 154.38,122.61 154.65,123.03 154.92,123.46 155.19,123.88 155.46,124.30 155.73,124.72 155.99,125.14 156.26,125.56 156.53,125.99 156.79,126.41 157.05,126.84 157.31,127.26 157.57,127.69 157.83,128.12 158.08,128.55 158.33,128.99 158.58,129.42 158.82,129.86 159.06,130.30 159.29,130.74 159.51,131.19 159.73,131.64 159.95,132.09 160.16,132.54 160.37,132.99 160.59,133.45 160.80,133.90 161.02,134.35 161.25,134.79 161.48,135.24 161.72,135.67 161.97,136.10 162.24,136.53 162.51,136.95 162.79,137.36 163.08,137.77 163.37,138.17 163.68,138.57 163.99,138.96 164.32,139.33 164.67,139.69 165.03,140.03 165.41,140.36 165.80,140.67 166.20,140.96 166.62,141.22 167.06,141.44 167.51,141.59 167.98,141.64 168.45,141.60 168.90,141.46 169.34,141.25 169.75,140.97 170.13,140.66 170.48,140.32 170.80,139.94 171.07,139.53 171.31,139.09 171.52,138.64 171.71,138.18 171.89,137.72 172.07,137.25 172.24,136.78 172.40,136.31 172.57,135.83 172.74,135.36 172.90,134.89 173.07,134.42 173.23,133.95 173.38,133.47 173.54,132.99 173.69,132.52 173.83,132.04 173.98,131.56 174.12,131.08 174.26,130.60 174.40,130.12 174.54,129.64 174.67,129.16 174.81,128.68 174.95,128.20 175.08,127.72 175.22,127.24 175.35,126.75 175.49,126.27 175.62,125.79 175.75,125.31 175.88,124.83 176.01,124.34 176.14,123.86 176.27,123.38 176.40,122.89 176.53,122.41 176.65,121.93 176.78,121.44 176.90,120.96 177.03,120.47 177.15,119.99 177.27,119.50 177.39,119.02 177.52,118.53 177.64,118.05 177.76,117.56 177.88,117.08 177.99,116.59 178.11,116.11 178.23,115.62 178.34,115.13 178.46,114.65 178.57,114.16 178.69,113.67 178.80,113.19 178.91,112.70 179.02,112.21 179.14,111.72 179.25,111.24 179.35,110.75 179.46,110.26 179.57,109.77 179.67,109.28 179.78,108.79 179.88,108.30 179.98,107.81 180.08,107.33 180.18,106.84 180.29,106.35 180.39,105.86 180.49,105.37 180.59,104.88 180.70,104.39 180.80,103.90 180.91,103.41 181.02,102.92 181.13,102.44 181.24,101.95 181.35,101.46 181.46,100.97 181.57,100.48 181.68,100.00 181.79,99.51 181.90,99.02 182.01,98.54 182.13,98.05 182.24,97.56 182.36,97.08 182.48,96.59 182.60,96.10 182.72,95.62 182.84,95.13 182.96,94.65 183.09,94.17 183.22,93.68 183.34,93.20 183.47,92.72 183.61,92.23 183.74,91.75 183.87,91.27 184.01,90.79 184.15,90.31 184.29,89.83 184.43,89.35 184.57,88.87 184.72,88.39 184.87,87.92 185.02,87.44 185.18,86.96 185.33,86.49 185.49,86.01 185.65,85.54 185.81,85.07 185.97,84.59 186.14,84.12 186.31,83.65 186.50,83.19 186.69,82.73 186.89,82.27 187.10,81.82 187.33,81.37 187.56,80.93 187.80,80.49 188.05,80.06 188.32,79.64 188.59,79.22 188.88,78.81 189.18,78.42 189.50,78.03 189.84,77.67 190.20,77.32 190.57,76.99 190.96,76.69 191.38,76.43 191.83,76.21 192.28,76.03 192.76,75.89 193.24,75.83 193.72,75.84 194.19,75.93 194.65,76.10 195.08,76.32 195.50,76.58 195.91,76.87 196.30,77.18 196.67,77.51 197.02,77.86 197.35,78.24 197.66,78.63 197.95,79.04 198.23,79.45 198.50,79.87 198.76,80.30 199.02,80.72 199.28,81.15 199.54,81.58 199.79,82.01 200.04,82.44 200.28,82.88 200.52,83.32 200.76,83.76 200.98,84.21 201.21,84.65 201.43,85.10 201.65,85.55 201.87,86.00 202.09,86.45 202.31,86.90 202.53,87.35 202.74,87.80 202.95,88.25 203.17,88.70 203.37,89.16 203.58,89.61 203.79,90.07 203.99,90.53 204.19,90.98 204.40,91.44 204.60,91.90 204.80,92.36 205.00,92.81 205.20,93.27 205.40,93.73 205.60,94.19 205.80,94.65 206.00,95.10 206.20,95.56 206.40,96.02 206.60,96.48 206.80,96.94 207.00,97.40 207.19,97.86 207.39,98.32 207.58,98.78 207.77,99.24 207.97,99.70 208.16,100.16 208.35,100.63 208.53,101.09 208.72,101.56 208.90,102.02 209.08,102.49 209.25,102.96 209.43,103.43 209.60,103.90 209.77,104.37 209.94,104.84 210.10,105.31 210.27,105.78 210.44,106.25 210.61,106.72 210.78,107.19 210.96,107.66 211.13,108.12 211.31,108.59 211.50,109.06 211.69,109.52 211.88,109.98 212.08,110.44 212.28,110.89 212.49,111.35 212.70,111.80 212.91,112.26 213.13,112.71 213.34,113.16 213.56,113.61 213.79,114.05 214.01,114.50 214.24,114.94 214.48,115.39 214.71,115.83 214.95,116.27 215.18,116.71 215.42,117.15 215.66,117.59 215.90,118.03 216.15,118.46 216.40,118.90 216.65,119.33 216.91,119.75 217.18,120.17 217.47,120.58 217.76,120.99 218.07,121.38 218.39,121.76 218.72,122.14 219.06,122.50 219.41,122.86 219.77,123.21 220.14,123.54 220.52,123.87 220.91,124.18 221.30,124.48 221.71,124.77 222.12,125.05 222.54,125.33 222.97,125.59 223.40,125.84 223.83,126.09 224.27,126.34 224.71,126.57 225.15,126.80 225.60,127.03 226.04,127.25 226.49,127.48 226.94,127.71 227.38,127.94 227.82,128.18 228.26,128.42 228.69,128.66 229.12,128.92 229.55,129.18 229.97,129.45 230.37,129.74 230.77,130.05 231.15,130.37 231.52,130.70 231.88,131.05 232.23,131.40 232.57,131.77 232.92,132.13 233.25,132.50 233.59,132.87 233.93,133.24 234.26,133.61 234.59,133.99 234.92,134.37 235.24,134.75 235.56,135.13 235.89,135.51 236.21,135.89 236.54,136.27 236.87,136.64 237.20,137.02 237.53,137.39 237.87,137.76 238.21,138.13 238.55,138.49 238.90,138.85 239.25,139.21 239.61,139.55 239.98,139.89 240.36,140.22 240.73,140.55 241.11,140.87 241.50,141.18 241.91,141.45 242.34,141.67 242.80,141.82 243.27,141.89 243.76,141.87 244.24,141.80 244.72,141.68 245.19,141.52 245.64,141.32 246.07,141.07 246.47,140.79 246.84,140.48 247.16,140.17 247.43,139.90" stroke="#1c1c9e" stroke-width="1.6" fill="none" stroke-linejoin="round" clip-path="url(#cA)"/>
<rect x="215.3" y="5.2" width="32" height="23.4" fill="#fff" stroke="#a8a8a8" stroke-width="0.9"/>
<line x1="216" y1="11" x2="237.6" y2="11" stroke="#1c1c9e" stroke-width="1.5"/>
<line x1="216" y1="22.5" x2="237.6" y2="22.5" stroke="#a21c2c" stroke-width="1.5"/>
<text x="239.2" y="14.6" font-size="10" font-style="italic" fill="#222">I</text>
<text x="239.8" y="26" font-size="10" font-style="italic" fill="#222">Q</text>
<line x1="247.3" y1="4.65" x2="247.3" y2="30" stroke="#2a2a2a" stroke-width="1.1"/>
<path d="M47.25 237.4V413M65.5 237.4V413M83.75 237.4V413M102 237.4V413M120.25 237.4V413M138.5 237.4V413M156.75 237.4V413M175 237.4V413M193.25 237.4V413M211.5 237.4V413M229.75 237.4V413M29 398.37H248M29 383.73H248M29 369.1H248M29 354.47H248M29 339.83H248M29 325.2H248M29 310.57H248M29 295.93H248M29 281.3H248M29 266.67H248M29 252.03H248" stroke="#dadada" stroke-width="0.9" fill="none"/>
<path d="M29 413v3.0M29 237.4v3.0M38.12 413v1.8M38.12 237.4v1.8M47.25 413v3.0M47.25 237.4v3.0M56.38 413v1.8M56.38 237.4v1.8M65.5 413v3.0M65.5 237.4v3.0M74.62 413v1.8M74.62 237.4v1.8M83.75 413v3.0M83.75 237.4v3.0M92.88 413v1.8M92.88 237.4v1.8M102 413v3.0M102 237.4v3.0M111.12 413v1.8M111.12 237.4v1.8M120.25 413v3.0M120.25 237.4v3.0M129.38 413v1.8M129.38 237.4v1.8M138.5 413v3.0M138.5 237.4v3.0M147.62 413v1.8M147.62 237.4v1.8M156.75 413v3.0M156.75 237.4v3.0M165.88 413v1.8M165.88 237.4v1.8M175 413v3.0M175 237.4v3.0M184.12 413v1.8M184.12 237.4v1.8M193.25 413v3.0M193.25 237.4v3.0M202.38 413v1.8M202.38 237.4v1.8M211.5 413v3.0M211.5 237.4v3.0M220.62 413v1.8M220.62 237.4v1.8M229.75 413v3.0M229.75 237.4v3.0M238.88 413v1.8M238.88 237.4v1.8M248 413v3.0M248 237.4v3.0M29 413h-3.0M248 413h-3.0M29 405.68h-1.8M248 405.68h-1.8M29 398.37h-3.0M248 398.37h-3.0M29 391.05h-1.8M248 391.05h-1.8M29 383.73h-3.0M248 383.73h-3.0M29 376.42h-1.8M248 376.42h-1.8M29 369.1h-3.0M248 369.1h-3.0M29 361.78h-1.8M248 361.78h-1.8M29 354.47h-3.0M248 354.47h-3.0M29 347.15h-1.8M248 347.15h-1.8M29 339.83h-3.0M248 339.83h-3.0M29 332.52h-1.8M248 332.52h-1.8M29 325.2h-3.0M248 325.2h-3.0M29 317.88h-1.8M248 317.88h-1.8M29 310.57h-3.0M248 310.57h-3.0M29 303.25h-1.8M248 303.25h-1.8M29 295.93h-3.0M248 295.93h-3.0M29 288.62h-1.8M248 288.62h-1.8M29 281.3h-3.0M248 281.3h-3.0M29 273.98h-1.8M248 273.98h-1.8M29 266.67h-3.0M248 266.67h-3.0M29 259.35h-1.8M248 259.35h-1.8M29 252.03h-3.0M248 252.03h-3.0M29 244.72h-1.8M248 244.72h-1.8M29 237.4h-3.0M248 237.4h-3.0" stroke="#2a2a2a" stroke-width="1" fill="none"/>
<rect x="29" y="237.4" width="219" height="175.6" stroke="#2a2a2a" stroke-width="1.1" fill="none"/>
<g font-size="7.4" fill="#222" stroke="#222" stroke-width="0.2"><text transform="translate(29,424.8) scale(1,0.94)" text-anchor="middle">0.00</text><text transform="translate(47.25,424.8) scale(1,0.94)" text-anchor="middle">0.25</text><text transform="translate(65.5,424.8) scale(1,0.94)" text-anchor="middle">0.50</text><text transform="translate(83.75,424.8) scale(1,0.94)" text-anchor="middle">0.75</text><text transform="translate(102,424.8) scale(1,0.94)" text-anchor="middle">1.00</text><text transform="translate(120.25,424.8) scale(1,0.94)" text-anchor="middle">1.25</text><text transform="translate(138.5,424.8) scale(1,0.94)" text-anchor="middle">1.50</text><text transform="translate(156.75,424.8) scale(1,0.94)" text-anchor="middle">1.75</text><text transform="translate(175,424.8) scale(1,0.94)" text-anchor="middle">2.00</text><text transform="translate(193.25,424.8) scale(1,0.94)" text-anchor="middle">2.25</text><text transform="translate(211.5,424.8) scale(1,0.94)" text-anchor="middle">2.50</text><text transform="translate(229.75,424.8) scale(1,0.94)" text-anchor="middle">2.75</text><text transform="translate(248,424.8) scale(1,0.94)" text-anchor="middle">3.00</text><text transform="translate(23,415.6) scale(1,0.94)" text-anchor="end">-0.5</text><text transform="translate(23,400.97) scale(1,0.94)" text-anchor="end">-0.4</text><text transform="translate(23,386.33) scale(1,0.94)" text-anchor="end">-0.3</text><text transform="translate(23,371.7) scale(1,0.94)" text-anchor="end">-0.2</text><text transform="translate(23,357.07) scale(1,0.94)" text-anchor="end">-0.1</text><text transform="translate(23,342.43) scale(1,0.94)" text-anchor="end">0.0</text><text transform="translate(23,327.8) scale(1,0.94)" text-anchor="end">0.1</text><text transform="translate(23,313.17) scale(1,0.94)" text-anchor="end">0.2</text><text transform="translate(23,298.53) scale(1,0.94)" text-anchor="end">0.3</text><text transform="translate(23,283.9) scale(1,0.94)" text-anchor="end">0.4</text><text transform="translate(23,269.27) scale(1,0.94)" text-anchor="end">0.5</text><text transform="translate(23,254.63) scale(1,0.94)" text-anchor="end">0.6</text><text transform="translate(23,240) scale(1,0.94)" text-anchor="end">0.7</text></g>
<path d="M28.55,335.70 28.79,335.90 29.09,336.17 29.43,336.50 29.76,336.85 30.09,337.23 30.40,337.62 30.71,338.01 31.00,338.42 31.29,338.83 31.55,339.25 31.80,339.68 32.04,340.12 32.27,340.57 32.49,341.02 32.70,341.46 32.93,341.91 33.15,342.36 33.39,342.80 33.63,343.24 33.88,343.67 34.13,344.10 34.38,344.53 34.64,344.96 34.92,345.37 35.22,345.76 35.56,346.11 35.95,346.40 36.37,346.62 36.82,346.77 37.28,346.81 37.72,346.73 38.12,346.53 38.49,346.23 38.81,345.86 39.12,345.47 39.40,345.06 39.67,344.64 39.92,344.21 40.15,343.77 40.37,343.32 40.57,342.86 40.76,342.40 40.94,341.94 41.12,341.47 41.30,341.00 41.48,340.53 41.65,340.07 41.83,339.60 42.01,339.13 42.20,338.67 42.40,338.21 42.60,337.75 42.81,337.30 43.03,336.85 43.25,336.40 43.48,335.96 43.70,335.51 43.93,335.07 44.16,334.62 44.41,334.19 44.66,333.75 44.92,333.33 45.20,332.92 45.50,332.52 45.82,332.14 46.16,331.78 46.52,331.43 46.90,331.12 47.30,330.86 47.73,330.68 48.18,330.61 48.63,330.67 49.06,330.84 49.46,331.10 49.85,331.41 50.21,331.75 50.56,332.10 50.90,332.47 51.21,332.86 51.51,333.26 51.79,333.67 52.07,334.09 52.33,334.51 52.59,334.94 52.84,335.37 53.09,335.80 53.34,336.23 53.59,336.67 53.84,337.10 54.08,337.54 54.32,337.98 54.55,338.42 54.78,338.87 55.01,339.31 55.23,339.76 55.45,340.21 55.66,340.66 55.88,341.11 56.09,341.57 56.29,342.02 56.49,342.48 56.69,342.94 56.88,343.40 57.06,343.87 57.23,344.34 57.40,344.81 57.56,345.28 57.72,345.76 57.89,346.23 58.05,346.70 58.22,347.17 58.40,347.64 58.59,348.10 58.79,348.56 59.01,349.00 59.25,349.44 59.51,349.87 59.78,350.29 60.05,350.71 60.34,351.11 60.64,351.51 60.96,351.89 61.32,352.22 61.71,352.49 62.13,352.67 62.59,352.74 63.06,352.71 63.53,352.59 63.98,352.40 64.42,352.18 64.85,351.93 65.27,351.66 65.68,351.37 66.06,351.05 66.42,350.71 66.76,350.35 67.08,349.96 67.38,349.57 67.68,349.16 67.96,348.75 68.24,348.34 68.51,347.92 68.77,347.49 69.03,347.06 69.27,346.63 69.51,346.19 69.74,345.74 69.96,345.30 70.18,344.85 70.39,344.39 70.61,343.94 70.82,343.49 71.03,343.03 71.23,342.58 71.44,342.12 71.65,341.67 71.85,341.21 72.05,340.75 72.24,340.29 72.44,339.83 72.63,339.37 72.82,338.91 73.00,338.44 73.19,337.98 73.37,337.51 73.56,337.05 73.74,336.58 73.93,336.12 74.12,335.66 74.31,335.19 74.50,334.73 74.69,334.27 74.88,333.81 75.08,333.35 75.29,332.90 75.50,332.44 75.71,331.99 75.93,331.54 76.14,331.09 76.36,330.64 76.58,330.19 76.80,329.74 77.03,329.29 77.25,328.85 77.48,328.40 77.72,327.96 77.95,327.52 78.20,327.09 78.46,326.66 78.72,326.23 79.00,325.82 79.28,325.41 79.58,325.01 79.88,324.61 80.19,324.22 80.51,323.83 80.84,323.47 81.20,323.14 81.60,322.88 82.03,322.72 82.48,322.67 82.95,322.73 83.41,322.87 83.86,323.08 84.29,323.32 84.70,323.60 85.09,323.90 85.45,324.24 85.78,324.61 86.08,325.01 86.37,325.42 86.64,325.84 86.89,326.26 87.14,326.70 87.38,327.14 87.62,327.58 87.85,328.02 88.07,328.47 88.28,328.92 88.48,329.38 88.67,329.84 88.85,330.31 89.02,330.78 89.19,331.25 89.35,331.72 89.51,332.20 89.66,332.67 89.81,333.15 89.96,333.63 90.11,334.11 90.25,334.58 90.39,335.07 90.52,335.55 90.65,336.03 90.77,336.51 90.89,337.00 91.00,337.49 91.11,337.98 91.21,338.46 91.31,338.95 91.42,339.44 91.52,339.93 91.62,340.42 91.73,340.91 91.84,341.40 91.95,341.89 92.08,342.37 92.20,342.85 92.34,343.34 92.47,343.82 92.61,344.30 92.75,344.78 92.90,345.25 93.05,345.73 93.20,346.21 93.36,346.68 93.51,347.16 93.68,347.63 93.84,348.10 94.01,348.57 94.18,349.04 94.35,349.51 94.52,349.98 94.70,350.45 94.87,350.92 95.05,351.39 95.23,351.85 95.41,352.32 95.60,352.78 95.78,353.25 95.98,353.71 96.17,354.17 96.37,354.63 96.58,355.08 96.80,355.53 97.03,355.97 97.26,356.42 97.50,356.85 97.75,357.29 97.99,357.73 98.24,358.16 98.49,358.59 98.75,359.02 99.03,359.43 99.32,359.84 99.64,360.21 99.99,360.55 100.39,360.82 100.82,361.03 101.29,361.17 101.77,361.26 102.26,361.31 102.75,361.31 103.22,361.23 103.67,361.07 104.09,360.83 104.47,360.52 104.82,360.18 105.16,359.81 105.48,359.43 105.79,359.04 106.08,358.63 106.35,358.21 106.59,357.78 106.82,357.34 107.03,356.89 107.23,356.43 107.43,355.97 107.61,355.50 107.79,355.04 107.97,354.57 108.15,354.10 108.32,353.63 108.50,353.17 108.68,352.70 108.86,352.23 109.04,351.77 109.22,351.30 109.41,350.84 109.59,350.37 109.78,349.91 109.97,349.44 110.15,348.98 110.33,348.51 110.51,348.05 110.69,347.58 110.87,347.11 111.04,346.64 111.22,346.17 111.38,345.70 111.55,345.23 111.71,344.76 111.87,344.29 112.03,343.81 112.18,343.34 112.33,342.86 112.47,342.38 112.61,341.90 112.75,341.42 112.88,340.93 113.01,340.45 113.13,339.97 113.26,339.48 113.38,339.00 113.50,338.51 113.62,338.03 113.74,337.54 113.86,337.06 113.98,336.57 114.10,336.09 114.23,335.60 114.35,335.12 114.47,334.63 114.60,334.15 114.73,333.67 114.86,333.19 115.00,332.70 115.14,332.22 115.28,331.74 115.42,331.27 115.57,330.79 115.72,330.31 115.86,329.83 116.01,329.35 116.16,328.88 116.31,328.40 116.46,327.92 116.62,327.45 116.77,326.97 116.93,326.50 117.10,326.03 117.26,325.55 117.43,325.08 117.61,324.62 117.79,324.15 117.97,323.69 118.17,323.23 118.37,322.77 118.57,322.31 118.77,321.85 118.98,321.40 119.20,320.95 119.41,320.50 119.64,320.05 119.87,319.61 120.11,319.17 120.37,318.75 120.65,318.34 120.96,317.94 121.29,317.57 121.64,317.22 122.01,316.89 122.40,316.57 122.79,316.27 123.21,315.99 123.63,315.74 124.08,315.54 124.55,315.40 125.02,315.33 125.50,315.34 125.98,315.44 126.43,315.60 126.88,315.82 127.30,316.08 127.70,316.36 128.09,316.68 128.45,317.02 128.78,317.39 129.07,317.79 129.35,318.20 129.60,318.63 129.84,319.07 130.07,319.51 130.29,319.96 130.51,320.41 130.72,320.86 130.94,321.32 131.14,321.77 131.35,322.23 131.55,322.68 131.75,323.14 131.93,323.61 132.12,324.07 132.30,324.54 132.47,325.01 132.64,325.48 132.80,325.95 132.97,326.42 133.13,326.90 133.29,327.37 133.44,327.84 133.60,328.32 133.75,328.80 133.91,329.27 134.06,329.75 134.21,330.22 134.36,330.70 134.51,331.18 134.65,331.66 134.80,332.14 134.94,332.62 135.08,333.10 135.21,333.58 135.35,334.06 135.48,334.54 135.61,335.02 135.75,335.51 135.88,335.99 136.01,336.47 136.14,336.95 136.26,337.44 136.39,337.92 136.52,338.40 136.65,338.89 136.78,339.37 136.91,339.85 137.03,340.34 137.16,340.82 137.28,341.30 137.41,341.79 137.53,342.27 137.65,342.76 137.76,343.25 137.88,343.73 138.00,344.22 138.12,344.70 138.25,345.19 138.37,345.67 138.50,346.15 138.63,346.64 138.77,347.12 138.91,347.60 139.06,348.07 139.21,348.55 139.37,349.02 139.53,349.50 139.70,349.97 139.87,350.44 140.04,350.91 140.20,351.38 140.37,351.85 140.53,352.32 140.69,352.80 140.85,353.27 141.00,353.75 141.15,354.23 141.30,354.70 141.45,355.18 141.60,355.66 141.76,356.13 141.91,356.61 142.08,357.08 142.24,357.55 142.42,358.02 142.59,358.49 142.78,358.95 142.96,359.42 143.15,359.88 143.34,360.34 143.54,360.80 143.74,361.26 143.95,361.71 144.16,362.16 144.39,362.61 144.63,363.05 144.88,363.48 145.14,363.91 145.41,364.33 145.68,364.75 145.96,365.16 146.25,365.57 146.55,365.97 146.88,366.33 147.24,366.65 147.64,366.90 148.08,367.05 148.56,367.12 149.04,367.12 149.53,367.06 150.00,366.95 150.44,366.78 150.84,366.52 151.18,366.19 151.49,365.80 151.76,365.39 152.02,364.96 152.26,364.52 152.48,364.08 152.69,363.62 152.88,363.16 153.05,362.69 153.21,362.22 153.36,361.74 153.51,361.27 153.65,360.79 153.79,360.31 153.92,359.82 154.06,359.34 154.20,358.86 154.34,358.38 154.48,357.90 154.63,357.43 154.78,356.95 154.93,356.47 155.08,356.00 155.24,355.52 155.39,355.05 155.55,354.57 155.70,354.09 155.85,353.62 156.00,353.14 156.15,352.67 156.30,352.19 156.45,351.71 156.59,351.23 156.74,350.75 156.88,350.27 157.01,349.79 157.15,349.31 157.29,348.83 157.42,348.35 157.55,347.86 157.68,347.38 157.81,346.90 157.94,346.42 158.06,345.93 158.19,345.45 158.32,344.96 158.44,344.48 158.56,343.99 158.68,343.51 158.81,343.02 158.93,342.54 159.05,342.05 159.17,341.57 159.28,341.08 159.40,340.60 159.52,340.11 159.63,339.62 159.75,339.14 159.86,338.65 159.97,338.16 160.08,337.67 160.18,337.19 160.29,336.70 160.39,336.21 160.50,335.72 160.61,335.23 160.71,334.74 160.82,334.25 160.93,333.77 161.04,333.28 161.15,332.79 161.26,332.30 161.38,331.82 161.49,331.33 161.61,330.85 161.73,330.36 161.86,329.87 161.98,329.39 162.10,328.90 162.22,328.42 162.35,327.94 162.47,327.45 162.60,326.97 162.73,326.49 162.86,326.00 162.99,325.52 163.13,325.04 163.27,324.56 163.42,324.08 163.57,323.61 163.73,323.13 163.89,322.66 164.05,322.19 164.22,321.72 164.39,321.25 164.57,320.78 164.75,320.31 164.93,319.84 165.11,319.38 165.30,318.92 165.50,318.46 165.71,318.01 165.93,317.56 166.16,317.11 166.40,316.68 166.66,316.25 166.94,315.84 167.23,315.43 167.53,315.03 167.84,314.64 168.16,314.26 168.50,313.90 168.87,313.57 169.27,313.29 169.71,313.07 170.17,312.91 170.65,312.79 171.13,312.71 171.63,312.68 172.11,312.71 172.58,312.80 173.03,312.98 173.44,313.23 173.83,313.53 174.20,313.86 174.54,314.23 174.84,314.61 175.12,315.03 175.37,315.46 175.60,315.90 175.82,316.35 176.03,316.80 176.24,317.26 176.44,317.71 176.64,318.17 176.84,318.63 177.04,319.09 177.23,319.55 177.41,320.02 177.59,320.48 177.77,320.95 177.95,321.42 178.12,321.89 178.29,322.36 178.46,322.83 178.62,323.30 178.78,323.77 178.95,324.25 179.11,324.72 179.26,325.19 179.42,325.67 179.57,326.14 179.72,326.62 179.87,327.10 180.02,327.58 180.17,328.05 180.31,328.53 180.45,329.01 180.59,329.49 180.73,329.97 180.87,330.45 181.00,330.94 181.14,331.42 181.27,331.90 181.40,332.38 181.53,332.86 181.66,333.35 181.78,333.83 181.90,334.32 182.03,334.80 182.15,335.29 182.26,335.77 182.38,336.26 182.50,336.75 182.61,337.23 182.73,337.72 182.84,338.21 182.95,338.69 183.07,339.18 183.18,339.67 183.29,340.16 183.40,340.64 183.50,341.13 183.61,341.62 183.71,342.11 183.81,342.60 183.91,343.09 184.01,343.58 184.11,344.07 184.21,344.56 184.31,345.05 184.41,345.54 184.51,346.03 184.61,346.52 184.71,347.01 184.81,347.50 184.92,347.99 185.03,348.47 185.14,348.96 185.25,349.45 185.36,349.94 185.47,350.42 185.59,350.91 185.70,351.40 185.82,351.89 185.93,352.37 186.05,352.86 186.17,353.34 186.29,353.83 186.41,354.31 186.53,354.80 186.66,355.28 186.79,355.76 186.93,356.25 187.07,356.72 187.21,357.20 187.36,357.68 187.52,358.16 187.67,358.63 187.83,359.10 187.99,359.58 188.16,360.05 188.33,360.52 188.50,360.99 188.67,361.46 188.85,361.92 189.04,362.39 189.23,362.85 189.43,363.31 189.64,363.76 189.87,364.21 190.10,364.65 190.35,365.08 190.60,365.51 190.86,365.94 191.13,366.36 191.40,366.78 191.68,367.20 191.98,367.60 192.29,367.97 192.64,368.31 193.03,368.58 193.45,368.75 193.89,368.79 194.34,368.70 194.76,368.51 195.16,368.24 195.54,367.92 195.89,367.56 196.22,367.19 196.52,366.80 196.81,366.39 197.06,365.96 197.28,365.52 197.48,365.06 197.65,364.59 197.82,364.12 197.97,363.65 198.12,363.17 198.27,362.69 198.41,362.21 198.56,361.74 198.70,361.26 198.85,360.78 199.00,360.30 199.15,359.83 199.30,359.35 199.45,358.87 199.59,358.39 199.74,357.91 199.88,357.43 200.02,356.95 200.16,356.47 200.30,355.99 200.43,355.51 200.57,355.03 200.71,354.55 200.84,354.07 200.98,353.59 201.11,353.11 201.24,352.62 201.38,352.14 201.51,351.66 201.64,351.18 201.77,350.70 201.91,350.21 202.04,349.73 202.17,349.25 202.29,348.76 202.42,348.28 202.55,347.80 202.68,347.31 202.80,346.83 202.93,346.35 203.06,345.86 203.18,345.38 203.31,344.90 203.43,344.41 203.56,343.93 203.68,343.44 203.81,342.96 203.94,342.48 204.06,341.99 204.19,341.51 204.31,341.02 204.43,340.54 204.56,340.05 204.68,339.57 204.81,339.09 204.93,338.60 205.05,338.12 205.18,337.63 205.30,337.15 205.42,336.66 205.55,336.18 205.67,335.69 205.79,335.21 205.91,334.72 206.04,334.24 206.16,333.75 206.28,333.27 206.40,332.78 206.52,332.30 206.64,331.81 206.76,331.33 206.88,330.84 207.00,330.36 207.12,329.87 207.24,329.39 207.36,328.90 207.47,328.41 207.59,327.93 207.71,327.44 207.83,326.96 207.95,326.47 208.07,325.99 208.20,325.50 208.32,325.02 208.45,324.54 208.58,324.05 208.71,323.57 208.84,323.09 208.97,322.60 209.11,322.12 209.24,321.64 209.37,321.16 209.51,320.68 209.65,320.20 209.78,319.72 209.92,319.24 210.07,318.76 210.22,318.28 210.37,317.80 210.53,317.33 210.69,316.86 210.86,316.39 211.04,315.92 211.22,315.45 211.40,314.99 211.59,314.53 211.78,314.06 211.98,313.61 212.19,313.15 212.42,312.71 212.67,312.29 212.96,311.89 213.29,311.53 213.67,311.21 214.07,310.93 214.51,310.69 214.96,310.50 215.43,310.37 215.90,310.32 216.38,310.35 216.85,310.46 217.31,310.64 217.75,310.87 218.16,311.14 218.55,311.45 218.90,311.79 219.22,312.17 219.50,312.57 219.77,313.00 220.01,313.43 220.24,313.87 220.47,314.32 220.69,314.77 220.90,315.22 221.11,315.68 221.31,316.13 221.50,316.60 221.68,317.06 221.86,317.53 222.03,318.00 222.20,318.47 222.37,318.94 222.53,319.41 222.69,319.89 222.85,320.36 223.01,320.83 223.17,321.31 223.33,321.78 223.48,322.26 223.64,322.73 223.79,323.21 223.94,323.69 224.09,324.16 224.24,324.64 224.38,325.12 224.53,325.60 224.67,326.08 224.81,326.56 224.95,327.04 225.09,327.52 225.22,328.00 225.36,328.48 225.49,328.96 225.62,329.45 225.74,329.93 225.87,330.41 225.99,330.90 226.11,331.38 226.23,331.87 226.35,332.36 226.46,332.84 226.58,333.33 226.69,333.82 226.81,334.30 226.92,334.79 227.04,335.28 227.15,335.76 227.26,336.25 227.38,336.74 227.49,337.22 227.61,337.71 227.73,338.20 227.84,338.68 227.96,339.17 228.08,339.65 228.20,340.14 228.32,340.62 228.43,341.11 228.55,341.60 228.67,342.08 228.79,342.57 228.91,343.05 229.02,343.54 229.14,344.03 229.26,344.51 229.38,345.00 229.50,345.48 229.62,345.97 229.74,346.45 229.86,346.94 229.98,347.42 230.10,347.91 230.22,348.39 230.34,348.88 230.46,349.37 230.58,349.85 230.69,350.34 230.81,350.82 230.93,351.31 231.04,351.80 231.16,352.28 231.27,352.77 231.39,353.26 231.51,353.74 231.63,354.23 231.75,354.71 231.87,355.20 231.99,355.68 232.11,356.17 232.24,356.65 232.37,357.13 232.50,357.62 232.64,358.10 232.78,358.58 232.93,359.05 233.08,359.53 233.24,360.00 233.40,360.48 233.57,360.95 233.73,361.42 233.90,361.89 234.07,362.36 234.25,362.83 234.43,363.30 234.61,363.76 234.80,364.22 235.00,364.68 235.21,365.13 235.44,365.58 235.69,366.01 235.97,366.42 236.27,366.82 236.59,367.20 236.93,367.57 237.28,367.91 237.66,368.24 238.05,368.52 238.48,368.75 238.93,368.90 239.40,368.95 239.87,368.90 240.33,368.77 240.78,368.57 241.21,368.33 241.62,368.05 242.02,367.76 242.40,367.43 242.75,367.09 243.08,366.71 243.38,366.32 243.66,365.91 243.93,365.48 244.18,365.05 244.43,364.62 244.68,364.18 244.92,363.75 245.17,363.31 245.41,362.87 245.65,362.44 245.89,362.00 246.12,361.55 246.34,361.11 246.57,360.66 246.79,360.21 247.01,359.76 247.24,359.32 247.46,358.87 247.69,358.43 247.92,357.99 248.16,357.55 248.39,357.12 248.60,356.74 248.77,356.43" stroke="#a21c2c" stroke-width="1.6" fill="none" stroke-linejoin="round" clip-path="url(#cC)"/>
<path d="M29.00,225.32 29.00,225.63 29.00,226.04 29.01,226.51 29.01,227.00 29.01,227.50 29.01,228.00 29.01,228.50 29.02,229.00 29.02,229.50 29.02,230.00 29.02,230.50 29.02,231.00 29.03,231.50 29.03,232.00 29.03,232.50 29.03,233.00 29.03,233.50 29.03,234.00 29.04,234.50 29.04,235.00 29.04,235.50 29.04,236.00 29.04,236.50 29.05,237.00 29.05,237.50 29.05,238.00 29.05,238.50 29.05,239.00 29.06,239.50 29.06,240.00 29.06,240.50 29.06,241.00 29.06,241.50 29.06,242.00 29.07,242.50 29.07,243.00 29.07,243.50 29.07,244.00 29.07,244.50 29.08,245.00 29.08,245.50 29.08,246.00 29.08,246.50 29.08,247.00 29.09,247.50 29.09,248.00 29.09,248.50 29.09,249.00 29.09,249.50 29.09,250.00 29.10,250.50 29.10,251.00 29.10,251.50 29.10,252.00 29.10,252.50 29.11,253.00 29.11,253.50 29.11,254.00 29.11,254.50 29.11,255.00 29.11,255.50 29.12,256.00 29.12,256.50 29.12,257.00 29.12,257.50 29.12,258.00 29.13,258.50 29.13,259.00 29.13,259.50 29.13,260.00 29.13,260.50 29.13,261.00 29.14,261.50 29.14,262.00 29.14,262.50 29.14,263.00 29.14,263.50 29.14,264.00 29.15,264.50 29.15,265.00 29.15,265.50 29.15,266.00 29.15,266.50 29.16,267.00 29.16,267.50 29.16,268.00 29.16,268.50 29.16,269.00 29.16,269.50 29.17,270.00 29.17,270.50 29.17,271.00 29.17,271.50 29.17,272.00 29.17,272.50 29.18,273.00 29.18,273.50 29.18,274.00 29.18,274.50 29.18,275.00 29.18,275.50 29.19,276.00 29.19,276.50 29.19,277.00 29.19,277.50 29.19,278.00 29.19,278.50 29.20,279.00 29.20,279.50 29.20,280.00 29.20,280.50 29.20,281.00 29.20,281.50 29.21,282.00 29.21,282.50 29.21,283.00 29.21,283.50 29.21,284.00 29.21,284.50 29.22,285.00 29.22,285.50 29.22,286.00 29.22,286.50 29.22,287.00 29.22,287.50 29.22,288.00 29.23,288.50 29.23,289.00 29.23,289.50 29.23,290.00 29.23,290.50 29.23,291.00 29.23,291.50 29.24,292.00 29.24,292.50 29.24,293.00 29.24,293.50 29.24,294.00 29.24,294.50 29.24,295.00 29.24,295.50 29.25,296.00 29.25,296.50 29.25,297.00 29.25,297.50 29.25,298.00 29.25,298.50 29.25,299.00 29.26,299.50 29.26,300.00 29.26,300.50 29.26,301.00 29.26,301.50 29.26,302.00 29.26,302.50 29.26,303.00 29.27,303.50 29.27,304.00 29.27,304.50 29.27,305.00 29.27,305.50 29.27,306.00 29.27,306.50 29.27,307.00 29.28,307.50 29.28,308.00 29.28,308.50 29.28,309.00 29.28,309.50 29.28,310.00 29.28,310.50 29.28,311.00 29.29,311.50 29.29,312.00 29.29,312.50 29.29,313.00 29.29,313.50 29.29,314.00 29.29,314.50 29.29,315.00 29.30,315.50 29.30,316.00 29.30,316.50 29.30,317.00 29.30,317.50 29.30,318.00 29.30,318.50 29.31,319.00 29.31,319.50 29.31,320.00 29.31,320.50 29.31,321.00 29.31,321.50 29.31,322.00 29.32,322.50 29.32,323.00 29.32,323.50 29.32,324.00 29.32,324.50 29.32,325.00 29.32,325.50 29.33,326.00 29.33,326.50 29.33,327.00 29.33,327.50 29.33,328.00 29.33,328.50 29.33,329.00 29.34,329.50 29.34,330.00 29.34,330.50 29.34,331.00 29.34,331.50 29.34,332.00 29.35,332.50 29.35,333.00 29.35,333.50 29.35,334.00 29.35,334.50 29.36,335.00 29.36,335.50 29.36,336.00 29.36,336.50 29.36,337.00 29.37,337.50 29.37,338.00 29.37,338.50 29.37,339.00 29.38,339.50 29.38,340.00 29.38,340.50 29.39,341.00 29.39,341.50 29.39,342.00 29.40,342.50 29.40,343.00 29.41,343.50 29.41,344.00 29.42,344.50 29.43,345.00 29.44,345.50 29.44,346.00 29.45,346.50 29.46,347.00 29.47,347.50 29.48,348.00 29.49,348.50 29.50,349.00 29.51,349.50 29.52,350.00 29.53,350.50 29.54,351.00 29.56,351.50 29.57,352.00 29.58,352.50 29.60,353.00 29.62,353.50 29.63,354.00 29.65,354.50 29.67,355.00 29.69,355.50 29.71,356.00 29.73,356.49 29.75,356.99 29.77,357.49 29.79,357.99 29.81,358.49 29.83,358.99 29.85,359.49 29.87,359.99 29.89,360.49 29.91,360.99 29.93,361.49 29.96,361.99 29.98,362.49 30.01,362.99 30.03,363.49 30.06,363.99 30.08,364.49 30.11,364.99 30.14,365.49 30.17,365.98 30.20,366.48 30.23,366.98 30.26,367.48 30.29,367.98 30.32,368.48 30.34,368.98 30.37,369.48 30.40,369.98 30.43,370.48 30.46,370.98 30.49,371.48 30.52,371.97 30.54,372.47 30.57,372.97 30.59,373.47 30.62,373.97 30.64,374.47 30.66,374.97 30.69,375.47 30.71,375.97 30.73,376.47 30.75,376.97 30.77,377.47 30.79,377.97 30.82,378.47 30.84,378.97 30.86,379.47 30.88,379.97 30.90,380.47 30.92,380.97 30.94,381.46 30.96,381.96 30.98,382.46 31.00,382.96 31.02,383.46 31.05,383.96 31.07,384.46 31.09,384.96 31.11,385.46 31.14,385.96 31.16,386.46 31.19,386.96 31.22,387.46 31.24,387.96 31.27,388.46 31.31,388.96 31.34,389.45 31.37,389.95 31.40,390.45 31.44,390.95 31.47,391.45 31.50,391.95 31.54,392.45 31.57,392.95 31.61,393.45 31.65,393.94 31.69,394.44 31.73,394.94 31.77,395.44 31.82,395.94 31.87,396.43 31.94,396.93 32.02,397.42 32.13,397.90 32.28,398.35 32.46,398.72 32.67,398.94 32.87,398.94 33.04,398.73 33.16,398.35 33.25,397.89 33.32,397.41 33.38,396.91 33.44,396.42 33.50,395.92 33.55,395.42 33.60,394.92 33.65,394.43 33.70,393.93 33.74,393.43 33.78,392.93 33.81,392.43 33.85,391.94 33.88,391.44 33.92,390.94 33.95,390.44 33.98,389.94 34.01,389.44 34.04,388.94 34.07,388.44 34.09,387.94 34.12,387.44 34.15,386.94 34.18,386.45 34.21,385.95 34.24,385.45 34.27,384.95 34.30,384.45 34.33,383.95 34.35,383.45 34.39,382.95 34.42,382.45 34.45,381.95 34.48,381.45 34.51,380.96 34.54,380.46 34.57,379.96 34.60,379.46 34.63,378.96 34.66,378.46 34.69,377.96 34.72,377.46 34.75,376.96 34.78,376.46 34.81,375.96 34.84,375.47 34.87,374.97 34.90,374.47 34.93,373.97 34.96,373.47 34.99,372.97 35.01,372.47 35.04,371.97 35.07,371.47 35.10,370.97 35.12,370.47 35.15,369.97 35.18,369.47 35.20,368.98 35.23,368.48 35.25,367.98 35.27,367.48 35.30,366.98 35.32,366.48 35.34,365.98 35.36,365.48 35.38,364.98 35.40,364.48 35.42,363.98 35.44,363.48 35.46,362.98 35.48,362.48 35.50,361.98 35.52,361.48 35.54,360.98 35.56,360.48 35.58,359.98 35.61,359.48 35.63,358.98 35.65,358.48 35.67,357.99 35.69,357.49 35.71,356.99 35.73,356.49 35.75,355.99 35.78,355.49 35.80,354.99 35.82,354.49 35.85,353.99 35.87,353.49 35.90,352.99 35.93,352.49 35.96,351.99 35.99,351.49 36.02,350.99 36.05,350.50 36.08,350.00 36.12,349.50 36.15,349.00 36.19,348.50 36.22,348.00 36.26,347.50 36.30,347.00 36.33,346.51 36.37,346.01 36.41,345.51 36.45,345.01 36.48,344.51 36.52,344.01 36.56,343.51 36.59,343.01 36.63,342.52 36.66,342.02 36.70,341.52 36.73,341.02 36.77,340.52 36.80,340.02 36.83,339.52 36.86,339.02 36.89,338.52 36.92,338.03 36.95,337.53 36.98,337.03 37.00,336.53 37.03,336.03 37.06,335.53 37.08,335.03 37.11,334.53 37.14,334.03 37.16,333.53 37.19,333.03 37.21,332.53 37.24,332.03 37.27,331.53 37.29,331.04 37.32,330.54 37.34,330.04 37.37,329.54 37.39,329.04 37.42,328.54 37.44,328.04 37.47,327.54 37.49,327.04 37.52,326.54 37.54,326.04 37.57,325.54 37.59,325.04 37.62,324.54 37.65,324.04 37.67,323.55 37.70,323.05 37.73,322.55 37.75,322.05 37.78,321.55 37.81,321.05 37.84,320.55 37.87,320.05 37.90,319.55 37.93,319.05 37.96,318.55 37.99,318.05 38.02,317.56 38.06,317.06 38.10,316.56 38.13,316.06 38.17,315.56 38.21,315.06 38.26,314.56 38.30,314.07 38.34,313.57 38.39,313.07 38.43,312.57 38.48,312.07 38.53,311.58 38.57,311.08 38.62,310.58 38.67,310.08 38.72,309.59 38.77,309.09 38.82,308.59 38.87,308.09 38.93,307.60 38.98,307.10 39.04,306.60 39.10,306.11 39.16,305.61 39.22,305.11 39.29,304.62 39.36,304.12 39.43,303.63 39.50,303.13 39.58,302.64 39.67,302.15 39.76,301.66 39.85,301.17 39.95,300.68 40.05,300.19 40.15,299.70 40.25,299.21 40.36,298.72 40.47,298.23 40.59,297.74 40.71,297.26 40.86,296.79 41.03,296.35 41.25,295.98 41.52,295.76 41.82,295.74 42.13,295.92 42.41,296.24 42.65,296.65 42.86,297.10 43.04,297.56 43.20,298.03 43.33,298.51 43.43,299.00 43.53,299.49 43.61,299.98 43.69,300.48 43.76,300.97 43.83,301.46 43.90,301.96 43.97,302.46 44.03,302.95 44.10,303.45 44.16,303.94 44.22,304.44 44.28,304.94 44.34,305.43 44.40,305.93 44.47,306.42 44.53,306.92 44.59,307.42 44.65,307.91 44.71,308.41 44.77,308.91 44.83,309.40 44.89,309.90 44.94,310.40 45.00,310.89 45.05,311.39 45.11,311.89 45.16,312.38 45.21,312.88 45.26,313.38 45.31,313.88 45.36,314.37 45.41,314.87 45.46,315.37 45.51,315.87 45.56,316.36 45.61,316.86 45.66,317.36 45.71,317.86 45.76,318.35 45.81,318.85 45.86,319.35 45.91,319.85 45.96,320.34 46.00,320.84 46.05,321.34 46.10,321.84 46.15,322.33 46.20,322.83 46.25,323.33 46.30,323.83 46.35,324.33 46.40,324.82 46.45,325.32 46.50,325.82 46.54,326.32 46.59,326.81 46.64,327.31 46.68,327.81 46.73,328.31 46.78,328.80 46.82,329.30 46.87,329.80 46.92,330.30 46.96,330.80 47.01,331.29 47.06,331.79 47.11,332.29 47.15,332.79 47.20,333.28 47.25,333.78 47.30,334.28 47.35,334.78 47.40,335.28 47.45,335.77 47.50,336.27 47.55,336.77 47.61,337.26 47.66,337.76 47.72,338.26 47.78,338.75 47.83,339.25 47.89,339.75 47.95,340.24 48.00,340.74 48.06,341.24 48.12,341.73 48.18,342.23 48.24,342.73 48.31,343.22 48.37,343.72 48.43,344.22 48.50,344.71 48.57,345.21 48.63,345.70 48.70,346.20 48.78,346.69 48.85,347.19 48.93,347.68 49.02,348.17 49.11,348.66 49.20,349.16 49.29,349.65 49.39,350.14 49.49,350.63 49.59,351.12 49.70,351.61 49.79,352.10 49.89,352.59 49.98,353.08 50.07,353.57 50.16,354.06 50.24,354.56 50.32,355.05 50.40,355.54 50.47,356.04 50.54,356.53 50.62,357.03 50.69,357.52 50.76,358.02 50.83,358.51 50.90,359.01 50.97,359.50 51.04,360.00 51.11,360.49 51.18,360.99 51.26,361.48 51.33,361.98 51.40,362.47 51.48,362.96 51.55,363.46 51.63,363.95 51.71,364.45 51.79,364.94 51.87,365.43 51.94,365.93 52.02,366.42 52.10,366.92 52.18,367.41 52.25,367.90 52.33,368.40 52.41,368.89 52.50,369.38 52.58,369.88 52.67,370.37 52.76,370.86 52.86,371.35 52.97,371.84 53.09,372.32 53.22,372.81 53.35,373.29 53.50,373.76 53.65,374.24 53.81,374.72 53.98,375.18 54.17,375.64 54.40,376.05 54.68,376.38 55.03,376.59 55.44,376.64 55.86,376.55 56.28,376.34 56.66,376.06 56.99,375.71 57.27,375.31 57.49,374.88 57.67,374.41 57.82,373.94 57.96,373.46 58.09,372.98 58.22,372.49 58.34,372.01 58.46,371.52 58.58,371.04 58.69,370.55 58.81,370.07 58.93,369.58 59.04,369.09 59.15,368.61 59.26,368.12 59.36,367.63 59.46,367.14 59.56,366.65 59.66,366.16 59.75,365.67 59.84,365.17 59.93,364.68 60.02,364.19 60.11,363.70 60.20,363.21 60.29,362.71 60.37,362.22 60.46,361.73 60.55,361.24 60.63,360.74 60.72,360.25 60.81,359.76 60.89,359.27 60.98,358.78 61.07,358.28 61.15,357.79 61.24,357.30 61.32,356.80 61.41,356.31 61.49,355.82 61.57,355.33 61.65,354.83 61.73,354.34 61.81,353.84 61.89,353.35 61.97,352.86 62.05,352.36 62.12,351.87 62.20,351.37 62.27,350.88 62.34,350.39 62.41,349.89 62.48,349.40 62.55,348.90 62.62,348.40 62.68,347.91 62.74,347.41 62.80,346.92 62.86,346.42 62.92,345.92 62.98,345.43 63.04,344.93 63.10,344.43 63.16,343.94 63.22,343.44 63.28,342.94 63.34,342.45 63.40,341.95 63.46,341.45 63.52,340.96 63.58,340.46 63.65,339.97 63.71,339.47 63.78,338.98 63.85,338.48 63.92,337.99 63.99,337.49 64.07,337.00 64.14,336.50 64.22,336.01 64.29,335.51 64.37,335.02 64.45,334.53 64.53,334.03 64.61,333.54 64.69,333.05 64.77,332.55 64.85,332.06 64.94,331.57 65.02,331.07 65.11,330.58 65.19,330.09 65.28,329.60 65.37,329.10 65.46,328.61 65.56,328.12 65.65,327.63 65.75,327.14 65.85,326.65 65.95,326.16 66.05,325.67 66.15,325.18 66.26,324.69 66.36,324.20 66.47,323.71 66.57,323.23 66.68,322.74 66.79,322.25 66.90,321.76 67.01,321.27 67.13,320.79 67.24,320.30 67.36,319.82 67.48,319.33 67.61,318.85 67.74,318.36 67.88,317.88 68.02,317.40 68.16,316.93 68.32,316.45 68.48,315.98 68.65,315.51 68.82,315.04 69.00,314.57 69.19,314.11 69.37,313.64 69.57,313.18 69.77,312.73 69.99,312.28 70.23,311.84 70.50,311.42 70.79,311.03 71.13,310.67 71.50,310.35 71.90,310.06 72.33,309.81 72.77,309.61 73.23,309.49 73.70,309.46 74.16,309.54 74.60,309.72 75.01,309.97 75.39,310.28 75.75,310.63 76.08,310.99 76.40,311.38 76.68,311.79 76.93,312.22 77.15,312.66 77.36,313.11 77.55,313.58 77.73,314.04 77.91,314.51 78.08,314.98 78.25,315.45 78.42,315.92 78.59,316.39 78.75,316.86 78.92,317.33 79.08,317.81 79.24,318.28 79.39,318.76 79.54,319.24 79.69,319.71 79.83,320.19 79.97,320.67 80.11,321.15 80.25,321.63 80.39,322.11 80.52,322.59 80.66,323.07 80.79,323.56 80.93,324.04 81.06,324.52 81.19,325.00 81.32,325.49 81.45,325.97 81.58,326.45 81.70,326.94 81.83,327.42 81.95,327.90 82.07,328.39 82.19,328.87 82.31,329.36 82.43,329.85 82.55,330.33 82.67,330.82 82.79,331.30 82.90,331.79 83.02,332.28 83.13,332.76 83.24,333.25 83.35,333.74 83.46,334.23 83.57,334.72 83.67,335.20 83.78,335.69 83.88,336.18 83.98,336.67 84.08,337.16 84.18,337.65 84.28,338.14 84.38,338.63 84.48,339.12 84.58,339.61 84.68,340.10 84.78,340.59 84.88,341.08 84.98,341.57 85.09,342.06 85.19,342.55 85.30,343.04 85.41,343.53 85.51,344.01 85.62,344.50 85.73,344.99 85.84,345.48 85.95,345.97 86.06,346.45 86.17,346.94 86.28,347.43 86.40,347.91 86.51,348.40 86.64,348.89 86.76,349.37 86.89,349.85 87.03,350.33 87.17,350.81 87.32,351.29 87.48,351.76 87.64,352.24 87.81,352.71 87.98,353.18 88.15,353.65 88.33,354.11 88.51,354.58 88.70,355.04 88.89,355.50 89.09,355.96 89.28,356.42 89.48,356.88 89.68,357.34 89.88,357.80 90.08,358.26 90.28,358.72 90.48,359.17 90.69,359.63 90.89,360.09 91.10,360.54 91.31,360.99 91.53,361.44 91.75,361.89 91.99,362.33 92.23,362.77 92.47,363.20 92.72,363.64 92.97,364.07 93.23,364.50 93.50,364.91 93.81,365.28 94.16,365.56 94.55,365.72 94.98,365.74 95.40,365.62 95.82,365.39 96.21,365.10 96.57,364.76 96.91,364.40 97.21,364.01 97.48,363.59 97.73,363.16 97.95,362.71 98.16,362.26 98.37,361.80 98.57,361.35 98.77,360.89 98.97,360.43 99.17,359.97 99.37,359.52 99.58,359.06 99.78,358.60 99.98,358.14 100.18,357.69 100.37,357.23 100.57,356.76 100.76,356.30 100.95,355.84 101.14,355.38 101.33,354.91 101.51,354.45 101.70,353.99 101.87,353.52 102.05,353.05 102.22,352.58 102.39,352.11 102.56,351.64 102.73,351.17 102.90,350.70 103.08,350.23 103.25,349.76 103.44,349.30 103.63,348.84 103.84,348.38 104.06,347.94 104.29,347.49 104.54,347.06 104.80,346.63 105.06,346.21 105.32,345.78 105.58,345.35 105.83,344.92 106.06,344.48 106.29,344.04 106.52,343.59 106.74,343.14 106.95,342.69 107.17,342.24 107.39,341.79 107.61,341.34 107.84,340.89 108.07,340.45 108.30,340.01 108.54,339.57 108.78,339.13 109.03,338.70 109.27,338.26 109.52,337.83 109.78,337.40 110.04,336.97 110.31,336.55 110.59,336.14 110.89,335.74 111.21,335.36 111.55,335.00 111.91,334.65 112.28,334.32 112.67,334.00 113.07,333.71 113.48,333.43 113.90,333.16 114.34,332.92 114.78,332.69 115.24,332.48 115.69,332.28 116.16,332.10 116.63,331.92 117.10,331.75 117.57,331.58 118.04,331.41 118.51,331.25 118.98,331.08 119.45,330.92 119.92,330.75 120.39,330.57 120.85,330.37 121.30,330.17 121.76,329.95 122.20,329.73 122.65,329.50 123.09,329.27 123.53,329.03 123.97,328.79 124.41,328.55 124.84,328.31 125.28,328.06 125.72,327.82 126.16,327.59 126.61,327.37 127.06,327.16 127.52,326.97 127.99,326.78 128.45,326.60 128.92,326.44 129.40,326.28 129.88,326.15 130.37,326.05 130.86,325.98 131.35,325.94 131.85,325.94 132.35,325.97 132.84,326.01 133.34,326.07 133.83,326.15 134.32,326.24 134.81,326.35 135.29,326.49 135.76,326.66 136.22,326.85 136.67,327.05 137.12,327.28 137.56,327.52 137.98,327.77 138.40,328.05 138.80,328.34 139.20,328.65 139.58,328.97 139.95,329.30 140.31,329.65 140.67,330.00 141.01,330.37 141.33,330.74 141.65,331.13 141.96,331.52 142.27,331.92 142.56,332.32 142.86,332.72 143.15,333.13 143.45,333.53 143.74,333.94 144.03,334.34 144.31,334.75 144.60,335.17 144.88,335.58 145.15,336.00 145.43,336.42 145.70,336.84 145.97,337.26 146.23,337.68 146.50,338.11 146.75,338.53 147.01,338.97 147.26,339.40 147.50,339.84 147.74,340.27 147.98,340.71 148.23,341.15 148.47,341.58 148.72,342.02 148.97,342.45 149.23,342.88 149.49,343.30 149.77,343.71 150.07,344.12 150.37,344.52 150.68,344.91 150.99,345.30 151.30,345.69 151.59,346.10 151.86,346.51 152.12,346.94 152.36,347.38 152.57,347.83 152.77,348.29 152.95,348.76 153.12,349.23 153.28,349.70 153.44,350.17 153.59,350.65 153.74,351.13 153.89,351.60 154.04,352.08 154.20,352.56 154.35,353.03 154.50,353.51 154.66,353.98 154.81,354.46 154.97,354.93 155.12,355.41 155.27,355.89 155.42,356.36 155.57,356.84 155.72,357.32 155.87,357.79 156.02,358.27 156.17,358.75 156.32,359.22 156.47,359.70 156.63,360.18 156.79,360.65 156.94,361.13 157.10,361.60 157.26,362.07 157.42,362.55 157.58,363.02 157.74,363.50 157.90,363.97 158.06,364.44 158.22,364.92 158.39,365.39 158.56,365.86 158.74,366.32 158.92,366.79 159.10,367.25 159.29,367.72 159.49,368.18 159.68,368.64 159.88,369.10 160.08,369.56 160.29,370.01 160.50,370.46 160.74,370.90 160.99,371.33 161.27,371.74 161.59,372.12 161.93,372.48 162.29,372.82 162.67,373.13 163.08,373.40 163.51,373.60 163.97,373.71 164.43,373.71 164.88,373.59 165.31,373.38 165.71,373.11 166.08,372.79 166.44,372.44 166.76,372.06 167.05,371.66 167.31,371.24 167.54,370.80 167.75,370.34 167.94,369.88 168.13,369.42 168.30,368.95 168.47,368.48 168.64,368.01 168.81,367.54 168.97,367.07 169.13,366.59 169.29,366.12 169.44,365.64 169.59,365.16 169.73,364.68 169.86,364.20 170.00,363.72 170.13,363.24 170.26,362.76 170.39,362.27 170.52,361.79 170.64,361.31 170.77,360.82 170.90,360.34 171.03,359.86 171.16,359.37 171.29,358.89 171.43,358.41 171.56,357.93 171.70,357.45 171.84,356.97 171.98,356.49 172.12,356.01 172.25,355.53 172.39,355.05 172.53,354.57 172.67,354.09 172.81,353.61 172.95,353.12 173.09,352.64 173.23,352.16 173.36,351.68 173.50,351.20 173.64,350.72 173.77,350.24 173.91,349.76 174.04,349.28 174.18,348.80 174.31,348.31 174.45,347.83 174.58,347.35 174.72,346.87 174.85,346.39 174.98,345.91 175.12,345.42 175.25,344.94 175.38,344.46 175.51,343.98 175.65,343.50 175.78,343.01 175.91,342.53 176.04,342.05 176.17,341.57 176.30,341.08 176.42,340.60 176.55,340.11 176.68,339.63 176.80,339.15 176.93,338.66 177.05,338.18 177.18,337.69 177.30,337.21 177.43,336.73 177.56,336.24 177.69,335.76 177.82,335.28 177.96,334.80 178.09,334.32 178.23,333.84 178.38,333.36 178.52,332.88 178.67,332.40 178.82,331.92 178.97,331.45 179.12,330.97 179.27,330.49 179.43,330.02 179.59,329.55 179.75,329.07 179.91,328.60 180.08,328.13 180.25,327.66 180.42,327.19 180.60,326.72 180.77,326.25 180.96,325.79 181.14,325.32 181.32,324.86 181.51,324.39 181.70,323.93 181.90,323.47 182.09,323.01 182.29,322.55 182.50,322.10 182.71,321.64 182.92,321.19 183.13,320.74 183.36,320.29 183.58,319.85 183.81,319.40 184.04,318.96 184.28,318.52 184.52,318.08 184.77,317.64 185.02,317.21 185.28,316.79 185.56,316.38 185.86,315.97 186.17,315.58 186.49,315.21 186.83,314.84 187.19,314.49 187.55,314.15 187.94,313.83 188.34,313.54 188.76,313.28 189.20,313.05 189.66,312.85 190.12,312.68 190.60,312.53 191.08,312.41 191.57,312.32 192.06,312.27 192.55,312.27 193.05,312.32 193.53,312.40 194.02,312.53 194.49,312.68 194.95,312.86 195.40,313.07 195.82,313.32 196.22,313.62 196.59,313.94 196.94,314.30 197.28,314.66 197.61,315.04 197.93,315.43 198.24,315.81 198.55,316.20 198.86,316.60 199.16,317.00 199.45,317.41 199.74,317.82 200.02,318.23 200.29,318.65 200.56,319.07 200.82,319.50 201.08,319.92 201.34,320.35 201.60,320.78 201.84,321.21 202.09,321.65 202.32,322.09 202.56,322.53 202.79,322.98 203.01,323.42 203.24,323.87 203.47,324.31 203.69,324.76 203.92,325.20 204.16,325.65 204.39,326.09 204.63,326.53 204.87,326.97 205.11,327.41 205.35,327.84 205.59,328.28 205.84,328.72 206.08,329.15 206.33,329.59 206.58,330.02 206.84,330.45 207.09,330.88 207.36,331.30 207.62,331.73 207.89,332.15 208.17,332.57 208.44,332.98 208.72,333.40 209.00,333.81 209.29,334.22 209.59,334.62 209.89,335.02 210.20,335.41 210.53,335.79 210.86,336.16 211.21,336.52 211.57,336.86 211.93,337.21 212.30,337.54 212.68,337.87 213.05,338.21 213.42,338.55 213.78,338.89 214.14,339.23 214.50,339.58 214.86,339.93 215.22,340.28 215.57,340.64 215.92,340.99 216.27,341.35 216.61,341.72 216.95,342.08 217.29,342.45 217.62,342.83 217.95,343.20 218.28,343.58 218.60,343.96 218.92,344.35 219.23,344.74 219.54,345.13 219.84,345.53 220.14,345.93 220.43,346.33 220.72,346.74 221.00,347.15 221.28,347.57 221.56,347.99 221.83,348.41 222.09,348.83 222.35,349.26 222.60,349.69 222.84,350.13 223.08,350.57 223.31,351.01 223.54,351.46 223.76,351.91 223.98,352.35 224.20,352.80 224.41,353.26 224.63,353.71 224.85,354.16 225.06,354.61 225.28,355.06 225.51,355.50 225.73,355.95 225.95,356.40 226.18,356.85 226.40,357.29 226.63,357.74 226.85,358.19 227.07,358.63 227.29,359.08 227.51,359.53 227.72,359.99 227.93,360.44 228.13,360.90 228.34,361.35 228.54,361.81 228.74,362.27 228.94,362.73 229.14,363.18 229.35,363.64 229.56,364.09 229.78,364.54 230.00,364.99 230.23,365.44 230.46,365.88 230.70,366.32 230.94,366.76 231.18,367.20 231.42,367.63 231.67,368.06 231.93,368.49 232.20,368.91 232.48,369.33 232.77,369.73 233.08,370.13 233.39,370.51 233.71,370.90 234.04,371.27 234.38,371.64 234.73,371.99 235.11,372.30 235.52,372.54 235.96,372.69 236.42,372.74 236.89,372.69 237.36,372.55 237.81,372.35 238.24,372.11 238.65,371.84 239.05,371.54 239.42,371.21 239.76,370.85 240.06,370.46 240.34,370.05 240.60,369.62 240.84,369.19 241.08,368.74 241.30,368.30 241.52,367.85 241.74,367.40 241.95,366.95 242.16,366.49 242.38,366.04 242.59,365.59 242.79,365.13 242.99,364.67 243.19,364.21 243.38,363.75 243.57,363.29 243.75,362.82 243.94,362.36 244.11,361.89 244.29,361.42 244.47,360.96 244.64,360.49 244.81,360.02 244.98,359.55 245.15,359.08 245.32,358.61 245.49,358.14 245.66,357.67 245.83,357.19 245.99,356.72 246.15,356.25 246.32,355.78 246.48,355.30 246.63,354.83 246.79,354.35 246.95,353.88 247.10,353.40 247.25,352.93 247.40,352.45 247.55,351.97 247.70,351.49 247.85,351.02 247.99,350.54 248.13,350.06 248.27,349.58 248.41,349.10 248.55,348.62 248.67,348.17 248.79,347.76 248.88,347.43" stroke="#1c1c9e" stroke-width="1.6" fill="none" stroke-linejoin="round" clip-path="url(#cC)"/>
<rect x="216" y="237.4" width="32" height="23.6" fill="#fff" stroke="#a8a8a8" stroke-width="0.9"/>
<line x1="216.6" y1="243.8" x2="238" y2="243.8" stroke="#1c1c9e" stroke-width="1.5"/>
<line x1="216.6" y1="254.9" x2="238" y2="254.9" stroke="#a21c2c" stroke-width="1.5"/>
<text x="239.6" y="247.4" font-size="10" font-style="italic" fill="#222">I</text>
<text x="240.2" y="258.5" font-size="10" font-style="italic" fill="#222">Q</text>
<line x1="248" y1="236.85" x2="248" y2="262" stroke="#2a2a2a" stroke-width="1.1"/>
<path d="M314.86 5.6V181.5M336.72 5.6V181.5M358.58 5.6V181.5M380.44 5.6V181.5M402.3 5.6V181.5M424.16 5.6V181.5M446.02 5.6V181.5M467.88 5.6V181.5M489.74 5.6V181.5M293 166.84H511.6M293 152.18H511.6M293 137.53H511.6M293 122.87H511.6M293 108.21H511.6M293 93.55H511.6M293 78.89H511.6M293 64.23H511.6M293 49.57H511.6M293 34.92H511.6M293 20.26H511.6" stroke="#dadada" stroke-width="0.9" fill="none"/>
<path d="M293 181.5v3.0M293 5.6v3.0M303.93 181.5v1.8M303.93 5.6v1.8M314.86 181.5v3.0M314.86 5.6v3.0M325.79 181.5v1.8M325.79 5.6v1.8M336.72 181.5v3.0M336.72 5.6v3.0M347.65 181.5v1.8M347.65 5.6v1.8M358.58 181.5v3.0M358.58 5.6v3.0M369.51 181.5v1.8M369.51 5.6v1.8M380.44 181.5v3.0M380.44 5.6v3.0M391.37 181.5v1.8M391.37 5.6v1.8M402.3 181.5v3.0M402.3 5.6v3.0M413.23 181.5v1.8M413.23 5.6v1.8M424.16 181.5v3.0M424.16 5.6v3.0M435.09 181.5v1.8M435.09 5.6v1.8M446.02 181.5v3.0M446.02 5.6v3.0M456.95 181.5v1.8M456.95 5.6v1.8M467.88 181.5v3.0M467.88 5.6v3.0M478.81 181.5v1.8M478.81 5.6v1.8M489.74 181.5v3.0M489.74 5.6v3.0M500.67 181.5v1.8M500.67 5.6v1.8M511.6 181.5v3.0M511.6 5.6v3.0M293 181.5h-3.0M511.6 181.5h-3.0M293 174.17h-1.8M511.6 174.17h-1.8M293 166.84h-3.0M511.6 166.84h-3.0M293 159.51h-1.8M511.6 159.51h-1.8M293 152.18h-3.0M511.6 152.18h-3.0M293 144.85h-1.8M511.6 144.85h-1.8M293 137.53h-3.0M511.6 137.53h-3.0M293 130.2h-1.8M511.6 130.2h-1.8M293 122.87h-3.0M511.6 122.87h-3.0M293 115.54h-1.8M511.6 115.54h-1.8M293 108.21h-3.0M511.6 108.21h-3.0M293 100.88h-1.8M511.6 100.88h-1.8M293 93.55h-3.0M511.6 93.55h-3.0M293 86.22h-1.8M511.6 86.22h-1.8M293 78.89h-3.0M511.6 78.89h-3.0M293 71.56h-1.8M511.6 71.56h-1.8M293 64.23h-3.0M511.6 64.23h-3.0M293 56.9h-1.8M511.6 56.9h-1.8M293 49.57h-3.0M511.6 49.57h-3.0M293 42.25h-1.8M511.6 42.25h-1.8M293 34.92h-3.0M511.6 34.92h-3.0M293 27.59h-1.8M511.6 27.59h-1.8M293 20.26h-3.0M511.6 20.26h-3.0M293 12.93h-1.8M511.6 12.93h-1.8M293 5.6h-3.0M511.6 5.6h-3.0" stroke="#2a2a2a" stroke-width="1" fill="none"/>
<rect x="293" y="5.6" width="218.6" height="175.9" stroke="#2a2a2a" stroke-width="1.1" fill="none"/>
<g font-size="7.4" fill="#222" stroke="#222" stroke-width="0.2"><text transform="translate(293,193.3) scale(1,0.94)" text-anchor="middle">1.30</text><text transform="translate(314.86,193.3) scale(1,0.94)" text-anchor="middle">1.35</text><text transform="translate(336.72,193.3) scale(1,0.94)" text-anchor="middle">1.40</text><text transform="translate(358.58,193.3) scale(1,0.94)" text-anchor="middle">1.45</text><text transform="translate(380.44,193.3) scale(1,0.94)" text-anchor="middle">1.50</text><text transform="translate(402.3,193.3) scale(1,0.94)" text-anchor="middle">1.55</text><text transform="translate(424.16,193.3) scale(1,0.94)" text-anchor="middle">1.60</text><text transform="translate(446.02,193.3) scale(1,0.94)" text-anchor="middle">1.65</text><text transform="translate(467.88,193.3) scale(1,0.94)" text-anchor="middle">1.70</text><text transform="translate(489.74,193.3) scale(1,0.94)" text-anchor="middle">1.75</text><text transform="translate(511.6,193.3) scale(1,0.94)" text-anchor="middle">1.80</text><text transform="translate(287,184.1) scale(1,0.94)" text-anchor="end">0.0</text><text transform="translate(287,169.44) scale(1,0.94)" text-anchor="end">0.1</text><text transform="translate(287,154.78) scale(1,0.94)" text-anchor="end">0.2</text><text transform="translate(287,140.12) scale(1,0.94)" text-anchor="end">0.3</text><text transform="translate(287,125.47) scale(1,0.94)" text-anchor="end">0.4</text><text transform="translate(287,110.81) scale(1,0.94)" text-anchor="end">0.5</text><text transform="translate(287,96.15) scale(1,0.94)" text-anchor="end">0.6</text><text transform="translate(287,81.49) scale(1,0.94)" text-anchor="end">0.7</text><text transform="translate(287,66.83) scale(1,0.94)" text-anchor="end">0.8</text><text transform="translate(287,52.17) scale(1,0.94)" text-anchor="end">0.9</text><text transform="translate(287,37.52) scale(1,0.94)" text-anchor="end">1.0</text><text transform="translate(287,22.86) scale(1,0.94)" text-anchor="end">1.1</text><text transform="translate(287,8.2) scale(1,0.94)" text-anchor="end">1.2</text></g>
<line x1="407.7" y1="35" x2="407.7" y2="181.5" stroke="#1c1c9e" stroke-width="1.1" stroke-dasharray="1.3 1.3"/>
<polyline points="293,94.1 322,101.1 407.7,35 493.2,110.1 511.6,105.4" stroke="#1c1c9e" stroke-width="1.5" fill="none" stroke-linejoin="miter" clip-path="url(#cB)"/>
<polygon points="380.60,53.30 383.74,55.58 382.54,59.27 378.66,59.27 377.46,55.58" fill="#c41fd4"/>
<polygon points="378,32.3 380.5,36.63 375.5,36.63" fill="#b8121f"/>
<polygon points="402.4,32.6 404.9,36.93 399.9,36.93" fill="#b8121f"/>
<line x1="362.3" y1="21.2" x2="371.96" y2="29.86" stroke="#b8121f" stroke-width="1.5"/>
<polygon points="376.8,34.2 369.21,31.43 373.22,26.96" fill="#b8121f"/>
<line x1="413.5" y1="20.3" x2="406.16" y2="29.85" stroke="#b8121f" stroke-width="1.5"/>
<polygon points="402.2,35 404.39,27.23 409.15,30.88" fill="#b8121f"/>
<line x1="433.8" y1="46.4" x2="417.41" y2="38.21" stroke="#1c1c9e" stroke-width="1.5"/>
<polygon points="411.6,35.3 419.65,35.97 416.97,41.34" fill="#1c1c9e"/>
<line x1="362.7" y1="48.1" x2="371.35" y2="52.27" stroke="#c41fd4" stroke-width="1.5"/>
<polygon points="377.2,55.1 369.14,54.54 371.75,49.14" fill="#c41fd4"/>
<text transform="translate(304.6,23) scale(1,1.07)" fill="#b02a30" font-size="9.0">X<tspan font-size="5.76" dy="2.4" font-style="italic">M-0</tspan><tspan dy="-2.4">=1.494 Hz</tspan></text>
<text transform="translate(417.6,22.7) scale(1,1.07)" fill="#b02a30" font-size="9.0">X<tspan font-size="5.76" dy="2.4" font-style="italic">M+1</tspan><tspan dy="-2.4">=1.551 Hz</tspan></text>
<text transform="translate(436.8,52.1) scale(1,1.07)" fill="#2a2aa0" font-size="9.0">X<tspan font-size="5.76" dy="2.4" font-style="italic">FFT</tspan><tspan dy="-2.4">=1.563 Hz</tspan></text>
<text transform="translate(318.6,51.5) scale(1,1.07)" fill="#b43cc4" font-size="9.0">X<tspan font-size="5.76" dy="2.4" font-style="italic">ref</tspan><tspan dy="-2.4">=1.5 Hz</tspan></text>
<rect x="298.1" y="121.9" width="76.5" height="30.8" fill="#fff" stroke="#9a9a9a" stroke-width="0.9"/>
<polygon points="314.00,125.00 317.23,127.35 316.00,131.15 312.00,131.15 310.77,127.35" fill="#c41fd4"/>
<line x1="303.8" y1="137.5" x2="324.6" y2="137.5" stroke="#1c1c9e" stroke-width="1.5"/>
<polygon points="314,144.4 316.5,148.73 311.5,148.73" fill="#a21c2c"/>
<g font-size="9.1" fill="#1a1a1a" stroke="#1a1a1a" stroke-width="0.18"><text transform="translate(326.5,131.2) scale(1,1.14)">Reference</text><text transform="translate(326.5,140.8) scale(1,1.14)">DFT</text><text transform="translate(326.5,150.2) scale(1,1.14)">Interpolation</text></g>
<path d="M311.25 238V413.6M329.5 238V413.6M347.75 238V413.6M366 238V413.6M384.25 238V413.6M402.5 238V413.6M420.75 238V413.6M439 238V413.6M457.25 238V413.6M475.5 238V413.6M493.75 238V413.6M293 398.97H512M293 384.33H512M293 369.7H512M293 355.07H512M293 340.43H512M293 325.8H512M293 311.17H512M293 296.53H512M293 281.9H512M293 267.27H512M293 252.63H512" stroke="#dadada" stroke-width="0.9" fill="none"/>
<path d="M293 413.6v3.0M293 238v3.0M302.12 413.6v1.8M302.12 238v1.8M311.25 413.6v3.0M311.25 238v3.0M320.38 413.6v1.8M320.38 238v1.8M329.5 413.6v3.0M329.5 238v3.0M338.62 413.6v1.8M338.62 238v1.8M347.75 413.6v3.0M347.75 238v3.0M356.88 413.6v1.8M356.88 238v1.8M366 413.6v3.0M366 238v3.0M375.12 413.6v1.8M375.12 238v1.8M384.25 413.6v3.0M384.25 238v3.0M393.38 413.6v1.8M393.38 238v1.8M402.5 413.6v3.0M402.5 238v3.0M411.62 413.6v1.8M411.62 238v1.8M420.75 413.6v3.0M420.75 238v3.0M429.88 413.6v1.8M429.88 238v1.8M439 413.6v3.0M439 238v3.0M448.12 413.6v1.8M448.12 238v1.8M457.25 413.6v3.0M457.25 238v3.0M466.38 413.6v1.8M466.38 238v1.8M475.5 413.6v3.0M475.5 238v3.0M484.62 413.6v1.8M484.62 238v1.8M493.75 413.6v3.0M493.75 238v3.0M502.88 413.6v1.8M502.88 238v1.8M512 413.6v3.0M512 238v3.0M293 413.6h-3.0M512 413.6h-3.0M293 406.28h-1.8M512 406.28h-1.8M293 398.97h-3.0M512 398.97h-3.0M293 391.65h-1.8M512 391.65h-1.8M293 384.33h-3.0M512 384.33h-3.0M293 377.02h-1.8M512 377.02h-1.8M293 369.7h-3.0M512 369.7h-3.0M293 362.38h-1.8M512 362.38h-1.8M293 355.07h-3.0M512 355.07h-3.0M293 347.75h-1.8M512 347.75h-1.8M293 340.43h-3.0M512 340.43h-3.0M293 333.12h-1.8M512 333.12h-1.8M293 325.8h-3.0M512 325.8h-3.0M293 318.48h-1.8M512 318.48h-1.8M293 311.17h-3.0M512 311.17h-3.0M293 303.85h-1.8M512 303.85h-1.8M293 296.53h-3.0M512 296.53h-3.0M293 289.22h-1.8M512 289.22h-1.8M293 281.9h-3.0M512 281.9h-3.0M293 274.58h-1.8M512 274.58h-1.8M293 267.27h-3.0M512 267.27h-3.0M293 259.95h-1.8M512 259.95h-1.8M293 252.63h-3.0M512 252.63h-3.0M293 245.32h-1.8M512 245.32h-1.8M293 238h-3.0M512 238h-3.0" stroke="#2a2a2a" stroke-width="1" fill="none"/>
<rect x="293" y="238" width="219" height="175.6" stroke="#2a2a2a" stroke-width="1.1" fill="none"/>
<g font-size="7.4" fill="#222" stroke="#222" stroke-width="0.2"><text transform="translate(293,425.4) scale(1,0.94)" text-anchor="middle">1.40</text><text transform="translate(311.25,425.4) scale(1,0.94)" text-anchor="middle">1.45</text><text transform="translate(329.5,425.4) scale(1,0.94)" text-anchor="middle">1.50</text><text transform="translate(347.75,425.4) scale(1,0.94)" text-anchor="middle">1.55</text><text transform="translate(366,425.4) scale(1,0.94)" text-anchor="middle">1.60</text><text transform="translate(384.25,425.4) scale(1,0.94)" text-anchor="middle">1.65</text><text transform="translate(402.5,425.4) scale(1,0.94)" text-anchor="middle">1.70</text><text transform="translate(420.75,425.4) scale(1,0.94)" text-anchor="middle">1.75</text><text transform="translate(439,425.4) scale(1,0.94)" text-anchor="middle">1.80</text><text transform="translate(457.25,425.4) scale(1,0.94)" text-anchor="middle">1.85</text><text transform="translate(475.5,425.4) scale(1,0.94)" text-anchor="middle">1.90</text><text transform="translate(493.75,425.4) scale(1,0.94)" text-anchor="middle">1.95</text><text transform="translate(512,425.4) scale(1,0.94)" text-anchor="middle">2.00</text><text transform="translate(287,416.2) scale(1,0.94)" text-anchor="end">0.0</text><text transform="translate(287,401.57) scale(1,0.94)" text-anchor="end">0.1</text><text transform="translate(287,386.93) scale(1,0.94)" text-anchor="end">0.2</text><text transform="translate(287,372.3) scale(1,0.94)" text-anchor="end">0.3</text><text transform="translate(287,357.67) scale(1,0.94)" text-anchor="end">0.4</text><text transform="translate(287,343.03) scale(1,0.94)" text-anchor="end">0.5</text><text transform="translate(287,328.4) scale(1,0.94)" text-anchor="end">0.6</text><text transform="translate(287,313.77) scale(1,0.94)" text-anchor="end">0.7</text><text transform="translate(287,299.13) scale(1,0.94)" text-anchor="end">0.8</text><text transform="translate(287,284.5) scale(1,0.94)" text-anchor="end">0.9</text><text transform="translate(287,269.87) scale(1,0.94)" text-anchor="end">1.0</text><text transform="translate(287,255.23) scale(1,0.94)" text-anchor="end">1.1</text><text transform="translate(287,240.6) scale(1,0.94)" text-anchor="end">1.2</text></g>
<line x1="423.6" y1="267.2" x2="423.6" y2="413.6" stroke="#1c1c9e" stroke-width="1.1" stroke-dasharray="1.3 1.3"/>
<polyline points="293,353.1 352.1,275.9 423.6,267.2 495,337.9 512,332.1" stroke="#1c1c9e" stroke-width="1.5" fill="none" clip-path="url(#cD)"/>
<polygon points="366.40,271.30 369.44,273.51 368.28,277.09 364.52,277.09 363.36,273.51" fill="#c41fd4"/>
<polygon points="389.4,264.8 391.9,269.13 386.9,269.13" fill="#b8121f"/>
<polygon points="391.8,264.8 394.3,269.13 389.3,269.13" fill="#b8121f"/>
<line x1="375.4" y1="254.2" x2="383" y2="261.8" stroke="#b8121f" stroke-width="1.5"/>
<polygon points="387.6,266.4 380.18,263.22 384.42,258.98" fill="#b8121f"/>
<line x1="404.6" y1="254.5" x2="397.85" y2="261.67" stroke="#b8121f" stroke-width="1.5"/>
<polygon points="393.4,266.4 396.36,258.88 400.72,262.99" fill="#b8121f"/>
<line x1="451.4" y1="277" x2="434.38" y2="269.75" stroke="#1c1c9e" stroke-width="1.5"/>
<polygon points="428.4,267.2 436.48,267.38 434.12,272.9" fill="#1c1c9e"/>
<line x1="354.5" y1="297.1" x2="361.82" y2="284.61" stroke="#c41fd4" stroke-width="1.5"/>
<polygon points="365.1,279 363.9,286.99 358.72,283.96" fill="#c41fd4"/>
<text transform="translate(318.6,257) scale(1,1.07)" fill="#b02a30" font-size="9.0">X<tspan font-size="5.76" dy="2.4" font-style="italic">M-0</tspan><tspan dy="-2.4">=1.663 Hz</tspan></text>
<text transform="translate(408.6,256.9) scale(1,1.07)" fill="#b02a30" font-size="9.0">X<tspan font-size="5.76" dy="2.4" font-style="italic">M+1</tspan><tspan dy="-2.4">=1.669 Hz</tspan></text>
<text transform="translate(455.6,282) scale(1,1.07)" fill="#2a2aa0" font-size="9.0">X<tspan font-size="5.76" dy="2.4" font-style="italic">FFT</tspan><tspan dy="-2.4">=1.758 Hz</tspan></text>
<text transform="translate(343.6,307.6) scale(1,1.07)" fill="#b43cc4" font-size="9.0">X<tspan font-size="5.76" dy="2.4" font-style="italic">ref</tspan><tspan dy="-2.4">=1.6 Hz</tspan></text>
<rect x="308.3" y="366.3" width="73" height="31.4" fill="#fff" stroke="#9a9a9a" stroke-width="0.9"/>
<polygon points="319.80,368.90 323.03,371.25 321.80,375.05 317.80,375.05 316.57,371.25" fill="#c41fd4"/>
<line x1="309.2" y1="382.7" x2="330.4" y2="382.7" stroke="#1c1c9e" stroke-width="1.5"/>
<polygon points="319.8,389.4 322.3,393.73 317.3,393.73" fill="#a21c2c"/>
<g font-size="9.1" fill="#1a1a1a" stroke="#1a1a1a" stroke-width="0.18"><text transform="translate(332.7,375.6) scale(1,1.14)">Reference</text><text transform="translate(332.7,386) scale(1,1.14)">DFT</text><text transform="translate(332.7,395.2) scale(1,1.14)">Interpolation</text></g>
<g font-size="9.1" fill="#1a1a1a" stroke="#1a1a1a" stroke-width="0.18">
<text transform="translate(138.4,203.8) scale(1,1.17)" text-anchor="middle">Time(s)</text>
<text transform="translate(408.3,203) scale(1,1.17)" text-anchor="middle">Frequency(Hz)</text>
<text transform="translate(140.2,435) scale(1,1.17)" text-anchor="middle">Time(s)</text>
<text transform="translate(408.1,435.2) scale(1,1.17)" text-anchor="middle">Frequency(Hz)</text>
<text transform="translate(9.7,89.9) rotate(-90)" text-anchor="middle">Amplitude(mm)</text>
<text transform="translate(8.2,321) rotate(-90)" text-anchor="middle">Amplitude(mm)</text>
<text transform="translate(273.9,93.6) rotate(-90)" text-anchor="middle">Normalized magnitude</text>
<text transform="translate(273.7,324.5) rotate(-90)" text-anchor="middle">Normalized magnitude</text>
</g>
<g font-size="12.5" fill="#111" stroke="#111" stroke-width="0.35"><text x="262.4" y="222.2" text-anchor="middle">(a)</text><text x="262.6" y="455.3" text-anchor="middle">(b)</text></g>
</svg></body></html>
